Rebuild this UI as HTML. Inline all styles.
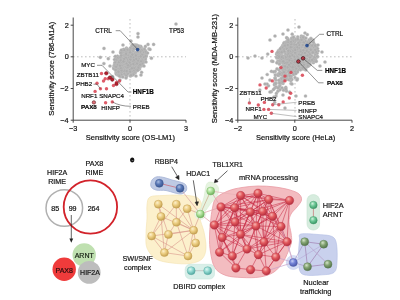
<!DOCTYPE html>
<html><head><meta charset="utf-8"><style>
html,body{margin:0;padding:0;background:#fff;width:400px;height:300px;overflow:hidden}
svg{display:block}
text{stroke:#111;stroke-width:0.2px}
</style></head><body>
<svg width="400" height="300" viewBox="0 0 400 300" font-family="&apos;Liberation Sans&apos;, Arial, sans-serif">
<defs>
<radialGradient id="gR" cx="0.38" cy="0.32" r="0.7"><stop offset="0" stop-color="#f6b4b0"/><stop offset="0.45" stop-color="#e25a5e"/><stop offset="1" stop-color="#b42c3c"/></radialGradient>
<radialGradient id="gY" cx="0.38" cy="0.32" r="0.7"><stop offset="0" stop-color="#fdf0cc"/><stop offset="0.45" stop-color="#edcf84"/><stop offset="1" stop-color="#c4a050"/></radialGradient>
<radialGradient id="gB" cx="0.38" cy="0.32" r="0.7"><stop offset="0" stop-color="#a8bce0"/><stop offset="0.45" stop-color="#5a78b6"/><stop offset="1" stop-color="#36548e"/></radialGradient>
<radialGradient id="gG" cx="0.38" cy="0.32" r="0.7"><stop offset="0" stop-color="#eafbe0"/><stop offset="0.45" stop-color="#aee29a"/><stop offset="1" stop-color="#6cae5a"/></radialGradient>
<radialGradient id="gT" cx="0.38" cy="0.32" r="0.7"><stop offset="0" stop-color="#e0f8f4"/><stop offset="0.45" stop-color="#94dad2"/><stop offset="1" stop-color="#50a8a0"/></radialGradient>
<radialGradient id="gH" cx="0.38" cy="0.32" r="0.7"><stop offset="0" stop-color="#d0f2dc"/><stop offset="0.45" stop-color="#6cc896"/><stop offset="1" stop-color="#389464"/></radialGradient>
<radialGradient id="gD" cx="0.38" cy="0.32" r="0.7"><stop offset="0" stop-color="#d4e4c8"/><stop offset="0.45" stop-color="#84a474"/><stop offset="1" stop-color="#527248"/></radialGradient>
<radialGradient id="gV" cx="0.38" cy="0.32" r="0.7"><stop offset="0" stop-color="#c8d0f6"/><stop offset="0.45" stop-color="#7484d8"/><stop offset="1" stop-color="#4a58a8"/></radialGradient>
</defs>
<rect width="400" height="300" fill="#fff"/>
<line x1="130" y1="19" x2="130" y2="120" stroke="#b5b5b5" stroke-width="0.9" stroke-dasharray="1.6 2.4"/>
<line x1="73" y1="56.8" x2="186" y2="56.8" stroke="#b5b5b5" stroke-width="0.9" stroke-dasharray="1.6 2.4"/>
<g fill="#adadad" stroke="#c6c6c6" stroke-width="0.35">
<circle cx="118.8" cy="59.3" r="1.6"/>
<circle cx="126.2" cy="49.1" r="1.6"/>
<circle cx="128.5" cy="57.6" r="1.6"/>
<circle cx="118.3" cy="73.0" r="1.6"/>
<circle cx="116.4" cy="72.2" r="1.6"/>
<circle cx="134.0" cy="69.0" r="1.6"/>
<circle cx="114.8" cy="66.0" r="1.6"/>
<circle cx="141.7" cy="65.8" r="1.6"/>
<circle cx="130.2" cy="57.0" r="1.6"/>
<circle cx="135.8" cy="47.5" r="1.6"/>
<circle cx="130.7" cy="72.0" r="1.6"/>
<circle cx="122.9" cy="71.1" r="1.6"/>
<circle cx="131.4" cy="54.9" r="1.6"/>
<circle cx="123.2" cy="51.7" r="1.6"/>
<circle cx="133.5" cy="54.8" r="1.6"/>
<circle cx="126.6" cy="67.6" r="1.6"/>
<circle cx="125.1" cy="58.6" r="1.6"/>
<circle cx="141.6" cy="56.7" r="1.6"/>
<circle cx="124.5" cy="69.2" r="1.6"/>
<circle cx="137.6" cy="67.2" r="1.6"/>
<circle cx="132.3" cy="50.9" r="1.6"/>
<circle cx="132.5" cy="67.9" r="1.6"/>
<circle cx="120.4" cy="70.1" r="1.6"/>
<circle cx="120.7" cy="76.5" r="1.6"/>
<circle cx="138.5" cy="55.2" r="1.6"/>
<circle cx="136.7" cy="47.5" r="1.6"/>
<circle cx="137.0" cy="57.5" r="1.6"/>
<circle cx="131.3" cy="58.0" r="1.6"/>
<circle cx="132.3" cy="64.7" r="1.6"/>
<circle cx="121.9" cy="76.5" r="1.6"/>
<circle cx="134.7" cy="48.4" r="1.6"/>
<circle cx="130.0" cy="67.2" r="1.6"/>
<circle cx="116.5" cy="73.1" r="1.6"/>
<circle cx="115.4" cy="66.3" r="1.6"/>
<circle cx="133.9" cy="70.8" r="1.6"/>
<circle cx="117.8" cy="71.3" r="1.6"/>
<circle cx="138.4" cy="66.7" r="1.6"/>
<circle cx="145.3" cy="59.1" r="1.6"/>
<circle cx="122.5" cy="65.4" r="1.6"/>
<circle cx="133.3" cy="71.9" r="1.6"/>
<circle cx="116.4" cy="64.8" r="1.6"/>
<circle cx="122.6" cy="67.9" r="1.6"/>
<circle cx="128.0" cy="54.2" r="1.6"/>
<circle cx="127.7" cy="65.7" r="1.6"/>
<circle cx="145.7" cy="52.3" r="1.6"/>
<circle cx="132.6" cy="62.7" r="1.6"/>
<circle cx="126.5" cy="48.1" r="1.6"/>
<circle cx="145.9" cy="55.4" r="1.6"/>
<circle cx="145.5" cy="56.4" r="1.6"/>
<circle cx="125.3" cy="62.0" r="1.6"/>
<circle cx="121.8" cy="74.1" r="1.6"/>
<circle cx="116.0" cy="62.6" r="1.6"/>
<circle cx="117.5" cy="57.1" r="1.6"/>
<circle cx="116.8" cy="69.2" r="1.6"/>
<circle cx="126.6" cy="51.5" r="1.6"/>
<circle cx="120.5" cy="64.9" r="1.6"/>
<circle cx="119.4" cy="57.7" r="1.6"/>
<circle cx="128.8" cy="61.6" r="1.6"/>
<circle cx="121.4" cy="60.9" r="1.6"/>
<circle cx="132.6" cy="45.9" r="1.6"/>
<circle cx="124.3" cy="53.7" r="1.6"/>
<circle cx="122.5" cy="51.1" r="1.6"/>
<circle cx="139.6" cy="69.0" r="1.6"/>
<circle cx="143.4" cy="54.8" r="1.6"/>
<circle cx="121.1" cy="65.0" r="1.6"/>
<circle cx="126.1" cy="74.9" r="1.6"/>
<circle cx="136.0" cy="65.3" r="1.6"/>
<circle cx="120.3" cy="60.5" r="1.6"/>
<circle cx="145.1" cy="57.2" r="1.6"/>
<circle cx="143.0" cy="56.9" r="1.6"/>
<circle cx="123.0" cy="68.7" r="1.6"/>
<circle cx="117.5" cy="56.2" r="1.6"/>
<circle cx="127.1" cy="71.0" r="1.6"/>
<circle cx="141.3" cy="47.8" r="1.6"/>
<circle cx="139.7" cy="46.3" r="1.6"/>
<circle cx="117.5" cy="63.5" r="1.6"/>
<circle cx="116.4" cy="63.7" r="1.6"/>
<circle cx="140.7" cy="65.0" r="1.6"/>
<circle cx="138.8" cy="51.5" r="1.6"/>
<circle cx="139.6" cy="62.4" r="1.6"/>
<circle cx="121.8" cy="75.1" r="1.6"/>
<circle cx="146.2" cy="55.2" r="1.6"/>
<circle cx="136.3" cy="53.9" r="1.6"/>
<circle cx="126.7" cy="75.0" r="1.6"/>
<circle cx="131.0" cy="71.0" r="1.6"/>
<circle cx="140.8" cy="46.4" r="1.6"/>
<circle cx="135.6" cy="71.9" r="1.6"/>
<circle cx="130.0" cy="48.9" r="1.6"/>
<circle cx="126.5" cy="76.5" r="1.6"/>
<circle cx="126.9" cy="65.9" r="1.6"/>
<circle cx="145.4" cy="51.1" r="1.6"/>
<circle cx="138.7" cy="68.3" r="1.6"/>
<circle cx="135.1" cy="69.6" r="1.6"/>
<circle cx="133.5" cy="46.9" r="1.6"/>
<circle cx="119.5" cy="63.9" r="1.6"/>
<circle cx="124.6" cy="69.6" r="1.6"/>
<circle cx="122.0" cy="66.0" r="1.6"/>
<circle cx="125.3" cy="64.2" r="1.6"/>
<circle cx="139.7" cy="66.2" r="1.6"/>
<circle cx="135.5" cy="70.8" r="1.6"/>
<circle cx="130.6" cy="61.5" r="1.6"/>
<circle cx="121.8" cy="51.5" r="1.6"/>
<circle cx="122.6" cy="56.8" r="1.6"/>
<circle cx="120.7" cy="69.3" r="1.6"/>
<circle cx="137.1" cy="56.0" r="1.6"/>
<circle cx="125.7" cy="66.0" r="1.6"/>
<circle cx="136.7" cy="64.7" r="1.6"/>
<circle cx="120.5" cy="72.7" r="1.6"/>
<circle cx="119.1" cy="63.7" r="1.6"/>
<circle cx="137.5" cy="53.8" r="1.6"/>
<circle cx="136.4" cy="64.1" r="1.6"/>
<circle cx="140.0" cy="48.9" r="1.6"/>
<circle cx="133.1" cy="58.1" r="1.6"/>
<circle cx="133.9" cy="64.2" r="1.6"/>
<circle cx="129.3" cy="62.9" r="1.6"/>
<circle cx="137.5" cy="69.7" r="1.6"/>
<circle cx="142.3" cy="62.6" r="1.6"/>
<circle cx="139.7" cy="67.6" r="1.6"/>
<circle cx="132.5" cy="45.2" r="1.6"/>
<circle cx="118.8" cy="70.1" r="1.6"/>
<circle cx="113.7" cy="67.7" r="1.6"/>
<circle cx="121.6" cy="75.6" r="1.6"/>
<circle cx="144.9" cy="60.7" r="1.6"/>
<circle cx="124.7" cy="74.3" r="1.6"/>
<circle cx="127.7" cy="50.1" r="1.6"/>
<circle cx="127.0" cy="63.5" r="1.6"/>
<circle cx="119.6" cy="68.8" r="1.6"/>
<circle cx="127.5" cy="57.6" r="1.6"/>
<circle cx="118.5" cy="65.8" r="1.6"/>
<circle cx="130.4" cy="58.5" r="1.6"/>
<circle cx="133.6" cy="57.9" r="1.6"/>
<circle cx="115.1" cy="67.3" r="1.6"/>
<circle cx="117.0" cy="60.4" r="1.6"/>
<circle cx="135.5" cy="70.7" r="1.6"/>
<circle cx="134.1" cy="48.0" r="1.6"/>
<circle cx="135.6" cy="62.8" r="1.6"/>
<circle cx="133.7" cy="54.6" r="1.6"/>
<circle cx="139.2" cy="62.9" r="1.6"/>
<circle cx="125.8" cy="59.3" r="1.6"/>
<circle cx="139.3" cy="67.4" r="1.6"/>
<circle cx="116.9" cy="60.4" r="1.6"/>
<circle cx="125.9" cy="55.5" r="1.6"/>
<circle cx="121.4" cy="62.5" r="1.6"/>
<circle cx="133.1" cy="50.2" r="1.6"/>
<circle cx="124.1" cy="55.1" r="1.6"/>
<circle cx="137.2" cy="55.7" r="1.6"/>
<circle cx="121.2" cy="68.9" r="1.6"/>
<circle cx="137.3" cy="51.2" r="1.6"/>
<circle cx="136.0" cy="67.3" r="1.6"/>
<circle cx="127.3" cy="64.0" r="1.6"/>
<circle cx="131.9" cy="71.3" r="1.6"/>
<circle cx="138.1" cy="57.9" r="1.6"/>
<circle cx="124.6" cy="60.8" r="1.6"/>
<circle cx="122.9" cy="77.0" r="1.6"/>
<circle cx="117.2" cy="61.4" r="1.6"/>
<circle cx="143.1" cy="54.2" r="1.6"/>
<circle cx="119.4" cy="62.1" r="1.6"/>
<circle cx="123.7" cy="65.8" r="1.6"/>
<circle cx="119.8" cy="69.2" r="1.6"/>
<circle cx="143.6" cy="49.2" r="1.6"/>
<circle cx="122.2" cy="63.5" r="1.6"/>
<circle cx="129.4" cy="61.7" r="1.6"/>
<circle cx="122.1" cy="69.1" r="1.6"/>
<circle cx="117.1" cy="70.2" r="1.6"/>
<circle cx="119.8" cy="61.3" r="1.6"/>
<circle cx="132.8" cy="59.2" r="1.6"/>
<circle cx="139.6" cy="57.2" r="1.6"/>
<circle cx="142.8" cy="62.2" r="1.6"/>
<circle cx="123.8" cy="60.8" r="1.6"/>
<circle cx="138.7" cy="57.6" r="1.6"/>
<circle cx="142.9" cy="52.8" r="1.6"/>
<circle cx="142.0" cy="60.5" r="1.6"/>
<circle cx="120.7" cy="71.1" r="1.6"/>
<circle cx="136.3" cy="67.0" r="1.6"/>
<circle cx="144.2" cy="58.8" r="1.6"/>
<circle cx="139.5" cy="66.0" r="1.6"/>
<circle cx="138.5" cy="59.6" r="1.6"/>
<circle cx="117.6" cy="68.3" r="1.6"/>
<circle cx="133.9" cy="61.8" r="1.6"/>
<circle cx="136.7" cy="60.9" r="1.6"/>
<circle cx="120.6" cy="52.2" r="1.6"/>
<circle cx="142.6" cy="57.6" r="1.6"/>
<circle cx="130.7" cy="61.6" r="1.6"/>
<circle cx="126.3" cy="48.7" r="1.6"/>
<circle cx="131.8" cy="50.1" r="1.6"/>
<circle cx="114.3" cy="68.1" r="1.6"/>
<circle cx="130.7" cy="49.4" r="1.6"/>
<circle cx="127.7" cy="59.0" r="1.6"/>
<circle cx="132.8" cy="64.9" r="1.6"/>
<circle cx="139.3" cy="56.0" r="1.6"/>
<circle cx="126.1" cy="49.4" r="1.6"/>
<circle cx="116.0" cy="65.9" r="1.6"/>
<circle cx="132.9" cy="50.9" r="1.6"/>
<circle cx="122.9" cy="50.2" r="1.6"/>
<circle cx="113.9" cy="68.6" r="1.6"/>
<circle cx="138.2" cy="59.9" r="1.6"/>
<circle cx="130.9" cy="52.4" r="1.6"/>
<circle cx="129.8" cy="59.9" r="1.6"/>
<circle cx="122.1" cy="54.9" r="1.6"/>
<circle cx="135.0" cy="44.9" r="1.6"/>
<circle cx="116.3" cy="73.2" r="1.6"/>
<circle cx="124.4" cy="58.1" r="1.6"/>
<circle cx="123.7" cy="70.3" r="1.6"/>
<circle cx="120.8" cy="71.1" r="1.6"/>
<circle cx="138.8" cy="52.6" r="1.6"/>
<circle cx="144.1" cy="54.3" r="1.6"/>
<circle cx="130.1" cy="75.5" r="1.6"/>
<circle cx="120.9" cy="52.6" r="1.6"/>
<circle cx="116.5" cy="74.2" r="1.6"/>
<circle cx="125.0" cy="58.7" r="1.6"/>
<circle cx="117.5" cy="67.8" r="1.6"/>
<circle cx="131.3" cy="72.2" r="1.6"/>
<circle cx="145.4" cy="53.5" r="1.6"/>
<circle cx="136.9" cy="46.3" r="1.6"/>
<circle cx="124.6" cy="62.5" r="1.6"/>
<circle cx="124.9" cy="63.4" r="1.6"/>
<circle cx="132.2" cy="74.8" r="1.6"/>
<circle cx="119.0" cy="63.4" r="1.6"/>
<circle cx="124.6" cy="55.0" r="1.6"/>
<circle cx="135.0" cy="72.8" r="1.6"/>
<circle cx="146.1" cy="56.4" r="1.6"/>
<circle cx="141.1" cy="65.1" r="1.6"/>
<circle cx="142.7" cy="50.1" r="1.6"/>
<circle cx="135.3" cy="53.9" r="1.6"/>
<circle cx="139.4" cy="56.9" r="1.6"/>
<circle cx="116.0" cy="58.5" r="1.6"/>
<circle cx="126.4" cy="58.9" r="1.6"/>
<circle cx="129.0" cy="70.8" r="1.6"/>
<circle cx="130.5" cy="53.1" r="1.6"/>
<circle cx="129.6" cy="57.5" r="1.6"/>
<circle cx="114.8" cy="63.7" r="1.6"/>
<circle cx="124.8" cy="55.9" r="1.6"/>
<circle cx="122.0" cy="55.7" r="1.6"/>
<circle cx="118.2" cy="57.7" r="1.6"/>
<circle cx="118.5" cy="63.6" r="1.6"/>
<circle cx="139.0" cy="66.2" r="1.6"/>
<circle cx="135.1" cy="52.7" r="1.6"/>
<circle cx="128.1" cy="63.8" r="1.6"/>
<circle cx="123.7" cy="61.3" r="1.6"/>
<circle cx="114.1" cy="68.7" r="1.6"/>
<circle cx="132.5" cy="63.3" r="1.6"/>
<circle cx="134.5" cy="46.0" r="1.6"/>
<circle cx="119.2" cy="62.5" r="1.6"/>
<circle cx="126.3" cy="62.7" r="1.6"/>
<circle cx="140.1" cy="49.9" r="1.6"/>
<circle cx="134.9" cy="71.8" r="1.6"/>
<circle cx="145.3" cy="58.8" r="1.6"/>
<circle cx="133.9" cy="63.7" r="1.6"/>
<circle cx="145.9" cy="53.2" r="1.6"/>
<circle cx="138.8" cy="61.9" r="1.6"/>
<circle cx="129.8" cy="63.1" r="1.6"/>
<circle cx="130.5" cy="75.9" r="1.6"/>
<circle cx="130.3" cy="53.5" r="1.6"/>
<circle cx="115.4" cy="66.4" r="1.6"/>
<circle cx="137.3" cy="61.0" r="1.6"/>
<circle cx="132.2" cy="61.9" r="1.6"/>
<circle cx="121.9" cy="58.9" r="1.6"/>
<circle cx="123.7" cy="49.3" r="1.6"/>
<circle cx="123.9" cy="65.6" r="1.6"/>
<circle cx="145.0" cy="51.3" r="1.6"/>
<circle cx="139.9" cy="50.2" r="1.6"/>
<circle cx="118.2" cy="63.5" r="1.6"/>
<circle cx="133.2" cy="64.3" r="1.6"/>
<circle cx="123.4" cy="58.7" r="1.6"/>
<circle cx="142.3" cy="64.3" r="1.6"/>
<circle cx="124.2" cy="63.9" r="1.6"/>
<circle cx="129.4" cy="50.5" r="1.6"/>
<circle cx="142.4" cy="57.4" r="1.6"/>
<circle cx="124.7" cy="55.4" r="1.6"/>
<circle cx="133.6" cy="47.5" r="1.6"/>
<circle cx="127.3" cy="73.3" r="1.6"/>
<circle cx="132.8" cy="74.8" r="1.6"/>
<circle cx="124.1" cy="55.4" r="1.6"/>
<circle cx="121.0" cy="66.9" r="1.6"/>
<circle cx="142.7" cy="64.8" r="1.6"/>
<circle cx="118.5" cy="68.5" r="1.6"/>
<circle cx="116.2" cy="70.9" r="1.6"/>
<circle cx="138.5" cy="46.3" r="1.6"/>
<circle cx="132.2" cy="54.4" r="1.6"/>
<circle cx="123.5" cy="61.3" r="1.6"/>
<circle cx="121.4" cy="64.2" r="1.6"/>
<circle cx="132.1" cy="70.8" r="1.6"/>
<circle cx="137.4" cy="51.1" r="1.6"/>
<circle cx="117.4" cy="72.6" r="1.6"/>
<circle cx="134.3" cy="72.1" r="1.6"/>
<circle cx="119.3" cy="66.8" r="1.6"/>
<circle cx="133.3" cy="69.1" r="1.6"/>
<circle cx="136.8" cy="45.2" r="1.6"/>
<circle cx="144.0" cy="61.7" r="1.6"/>
<circle cx="121.5" cy="61.1" r="1.6"/>
<circle cx="144.4" cy="50.9" r="1.6"/>
<circle cx="127.6" cy="71.4" r="1.6"/>
<circle cx="120.9" cy="61.8" r="1.6"/>
<circle cx="143.7" cy="52.3" r="1.6"/>
<circle cx="122.4" cy="67.7" r="1.6"/>
<circle cx="122.4" cy="59.5" r="1.6"/>
<circle cx="128.0" cy="62.8" r="1.6"/>
<circle cx="142.5" cy="57.3" r="1.6"/>
<circle cx="143.7" cy="57.3" r="1.6"/>
<circle cx="129.7" cy="55.0" r="1.6"/>
<circle cx="122.6" cy="63.3" r="1.6"/>
<circle cx="126.5" cy="73.8" r="1.6"/>
<circle cx="118.4" cy="74.5" r="1.6"/>
<circle cx="116.0" cy="59.7" r="1.6"/>
<circle cx="119.1" cy="71.8" r="1.6"/>
<circle cx="134.7" cy="54.4" r="1.6"/>
<circle cx="121.3" cy="66.6" r="1.6"/>
<circle cx="136.4" cy="61.0" r="1.6"/>
<circle cx="143.0" cy="60.7" r="1.6"/>
<circle cx="127.5" cy="49.6" r="1.6"/>
<circle cx="135.4" cy="48.0" r="1.6"/>
<circle cx="129.5" cy="56.9" r="1.6"/>
<circle cx="130.9" cy="49.1" r="1.6"/>
<circle cx="118.5" cy="63.1" r="1.6"/>
<circle cx="128.9" cy="55.7" r="1.6"/>
<circle cx="125.3" cy="55.9" r="1.6"/>
<circle cx="141.1" cy="55.5" r="1.6"/>
<circle cx="135.2" cy="67.5" r="1.6"/>
<circle cx="114.1" cy="65.5" r="1.6"/>
<circle cx="144.2" cy="49.8" r="1.6"/>
<circle cx="139.2" cy="47.1" r="1.6"/>
<circle cx="138.9" cy="50.2" r="1.6"/>
<circle cx="128.7" cy="72.6" r="1.6"/>
<circle cx="134.8" cy="60.6" r="1.6"/>
<circle cx="120.0" cy="66.2" r="1.6"/>
<circle cx="114.9" cy="65.2" r="1.6"/>
<circle cx="125.2" cy="69.4" r="1.6"/>
<circle cx="128.6" cy="51.5" r="1.6"/>
<circle cx="129.0" cy="50.4" r="1.6"/>
<circle cx="119.5" cy="60.6" r="1.6"/>
<circle cx="138.8" cy="53.9" r="1.6"/>
<circle cx="128.1" cy="64.7" r="1.6"/>
<circle cx="126.2" cy="49.7" r="1.6"/>
<circle cx="124.6" cy="73.6" r="1.6"/>
<circle cx="123.6" cy="59.4" r="1.6"/>
<circle cx="133.2" cy="74.5" r="1.6"/>
<circle cx="126.2" cy="67.3" r="1.6"/>
<circle cx="124.6" cy="63.3" r="1.6"/>
<circle cx="120.8" cy="59.1" r="1.6"/>
<circle cx="130.7" cy="49.4" r="1.6"/>
<circle cx="133.8" cy="68.9" r="1.6"/>
<circle cx="134.5" cy="70.6" r="1.6"/>
<circle cx="122.7" cy="55.8" r="1.6"/>
<circle cx="117.9" cy="75.0" r="1.6"/>
<circle cx="141.3" cy="64.8" r="1.6"/>
<circle cx="121.2" cy="74.3" r="1.6"/>
<circle cx="126.6" cy="64.6" r="1.6"/>
<circle cx="116.5" cy="66.5" r="1.6"/>
<circle cx="138.4" cy="68.3" r="1.6"/>
<circle cx="119.3" cy="71.3" r="1.6"/>
<circle cx="115.0" cy="62.3" r="1.6"/>
<circle cx="121.3" cy="53.3" r="1.6"/>
<circle cx="139.4" cy="47.5" r="1.6"/>
<circle cx="143.1" cy="52.4" r="1.6"/>
<circle cx="132.5" cy="46.0" r="1.6"/>
<circle cx="132.6" cy="48.2" r="1.6"/>
<circle cx="133.8" cy="69.9" r="1.6"/>
<circle cx="133.0" cy="46.3" r="1.6"/>
<circle cx="120.6" cy="66.7" r="1.6"/>
<circle cx="128.3" cy="58.4" r="1.6"/>
<circle cx="115.2" cy="66.5" r="1.6"/>
<circle cx="143.3" cy="62.3" r="1.6"/>
<circle cx="118.8" cy="74.5" r="1.6"/>
<circle cx="133.6" cy="59.2" r="1.6"/>
<circle cx="129.9" cy="54.0" r="1.6"/>
<circle cx="129.4" cy="64.7" r="1.6"/>
<circle cx="130.9" cy="65.9" r="1.6"/>
<circle cx="127.4" cy="61.3" r="1.6"/>
<circle cx="119.4" cy="76.0" r="1.6"/>
<circle cx="124.9" cy="56.4" r="1.6"/>
<circle cx="142.2" cy="59.1" r="1.6"/>
<circle cx="123.0" cy="56.2" r="1.6"/>
<circle cx="122.1" cy="54.5" r="1.6"/>
<circle cx="118.7" cy="69.7" r="1.6"/>
<circle cx="118.0" cy="70.9" r="1.6"/>
<circle cx="121.8" cy="52.3" r="1.6"/>
<circle cx="126.0" cy="49.7" r="1.6"/>
<circle cx="141.4" cy="59.8" r="1.6"/>
<circle cx="122.1" cy="52.5" r="1.6"/>
<circle cx="127.9" cy="58.6" r="1.6"/>
<circle cx="142.0" cy="60.6" r="1.6"/>
<circle cx="138.2" cy="69.6" r="1.6"/>
<circle cx="115.6" cy="69.9" r="1.6"/>
<circle cx="130.6" cy="47.8" r="1.6"/>
<circle cx="136.5" cy="46.2" r="1.6"/>
<circle cx="131.9" cy="46.0" r="1.6"/>
<circle cx="137.8" cy="68.7" r="1.6"/>
<circle cx="117.8" cy="64.5" r="1.6"/>
<circle cx="126.8" cy="57.5" r="1.6"/>
<circle cx="142.1" cy="63.4" r="1.6"/>
<circle cx="126.3" cy="75.1" r="1.6"/>
<circle cx="120.2" cy="71.9" r="1.6"/>
<circle cx="131.1" cy="54.8" r="1.6"/>
<circle cx="141.0" cy="52.0" r="1.6"/>
<circle cx="139.2" cy="65.9" r="1.6"/>
<circle cx="131.5" cy="55.6" r="1.6"/>
<circle cx="133.7" cy="48.7" r="1.6"/>
<circle cx="144.6" cy="49.2" r="1.6"/>
<circle cx="131.1" cy="69.6" r="1.6"/>
<circle cx="122.5" cy="56.6" r="1.6"/>
<circle cx="128.2" cy="59.4" r="1.6"/>
<circle cx="128.9" cy="54.8" r="1.6"/>
<circle cx="103.9" cy="63.6" r="1.6"/>
<circle cx="116.1" cy="66.8" r="1.6"/>
<circle cx="130.1" cy="61.5" r="1.6"/>
<circle cx="135.0" cy="57.3" r="1.6"/>
<circle cx="120.1" cy="63.4" r="1.6"/>
<circle cx="112.6" cy="76.6" r="1.6"/>
<circle cx="136.6" cy="60.0" r="1.6"/>
<circle cx="128.1" cy="61.0" r="1.6"/>
<circle cx="137.4" cy="53.8" r="1.6"/>
<circle cx="138.8" cy="58.4" r="1.6"/>
<circle cx="138.6" cy="66.3" r="1.6"/>
<circle cx="123.6" cy="63.6" r="1.6"/>
<circle cx="119.5" cy="63.1" r="1.6"/>
<circle cx="151.4" cy="58.2" r="1.6"/>
<circle cx="133.2" cy="63.8" r="1.6"/>
<circle cx="143.4" cy="56.1" r="1.6"/>
<circle cx="132.7" cy="44.9" r="1.6"/>
<circle cx="127.4" cy="68.4" r="1.6"/>
<circle cx="141.7" cy="50.4" r="1.6"/>
<circle cx="121.4" cy="65.8" r="1.6"/>
<circle cx="120.3" cy="61.6" r="1.6"/>
<circle cx="138.4" cy="46.0" r="1.6"/>
<circle cx="141.6" cy="72.3" r="1.6"/>
<circle cx="141.0" cy="53.6" r="1.6"/>
<circle cx="127.4" cy="67.9" r="1.6"/>
<circle cx="145.9" cy="51.7" r="1.6"/>
<circle cx="140.3" cy="51.7" r="1.6"/>
<circle cx="132.9" cy="55.9" r="1.6"/>
<circle cx="140.2" cy="64.6" r="1.6"/>
<circle cx="118.5" cy="71.8" r="1.6"/>
<circle cx="128.8" cy="56.1" r="1.6"/>
<circle cx="131.8" cy="67.6" r="1.6"/>
<circle cx="148.9" cy="48.8" r="1.6"/>
<circle cx="124.3" cy="50.2" r="1.6"/>
<circle cx="145.4" cy="46.4" r="1.6"/>
<circle cx="123.8" cy="55.3" r="1.6"/>
<circle cx="123.7" cy="55.6" r="1.6"/>
<circle cx="133.0" cy="62.9" r="1.6"/>
<circle cx="131.7" cy="62.2" r="1.6"/>
<circle cx="131.0" cy="75.2" r="1.6"/>
<circle cx="115.3" cy="56.4" r="1.6"/>
<circle cx="124.5" cy="58.4" r="1.6"/>
<circle cx="120.3" cy="67.0" r="1.6"/>
<circle cx="126.0" cy="52.5" r="1.6"/>
<circle cx="136.5" cy="69.6" r="1.6"/>
<circle cx="134.5" cy="54.9" r="1.6"/>
<circle cx="130.4" cy="59.4" r="1.6"/>
<circle cx="133.5" cy="65.3" r="1.6"/>
<circle cx="121.0" cy="53.0" r="1.6"/>
<circle cx="126.7" cy="58.0" r="1.6"/>
<circle cx="131.1" cy="55.6" r="1.6"/>
<circle cx="138.4" cy="68.0" r="1.6"/>
<circle cx="120.8" cy="62.2" r="1.6"/>
<circle cx="114.5" cy="59.5" r="1.6"/>
<circle cx="122.0" cy="71.6" r="1.6"/>
<circle cx="120.2" cy="57.6" r="1.6"/>
<circle cx="124.8" cy="70.5" r="1.6"/>
<circle cx="124.9" cy="63.5" r="1.6"/>
<circle cx="136.4" cy="64.2" r="1.6"/>
<circle cx="143.3" cy="55.0" r="1.6"/>
<circle cx="131.4" cy="60.9" r="1.6"/>
<circle cx="144.0" cy="57.1" r="1.6"/>
<circle cx="130.1" cy="64.2" r="1.6"/>
<circle cx="131.6" cy="59.8" r="1.6"/>
<circle cx="122.8" cy="58.8" r="1.6"/>
<circle cx="121.9" cy="58.2" r="1.6"/>
<circle cx="138.0" cy="56.8" r="1.6"/>
<circle cx="129.0" cy="71.9" r="1.6"/>
<circle cx="127.7" cy="49.8" r="1.6"/>
<circle cx="142.0" cy="54.7" r="1.6"/>
<circle cx="135.9" cy="46.4" r="1.6"/>
<circle cx="134.1" cy="59.9" r="1.6"/>
<circle cx="131.6" cy="60.6" r="1.6"/>
<circle cx="129.9" cy="50.5" r="1.6"/>
<circle cx="118.9" cy="62.2" r="1.6"/>
<circle cx="125.1" cy="61.6" r="1.6"/>
<circle cx="132.8" cy="60.1" r="1.6"/>
<circle cx="127.8" cy="58.5" r="1.6"/>
<circle cx="131.2" cy="66.6" r="1.6"/>
<circle cx="134.1" cy="57.6" r="1.6"/>
<circle cx="133.9" cy="68.1" r="1.6"/>
<circle cx="129.4" cy="66.2" r="1.6"/>
<circle cx="134.8" cy="54.4" r="1.6"/>
<circle cx="130.1" cy="53.0" r="1.6"/>
<circle cx="135.7" cy="56.7" r="1.6"/>
<circle cx="124.5" cy="71.2" r="1.6"/>
<circle cx="130.1" cy="69.9" r="1.6"/>
<circle cx="126.1" cy="63.8" r="1.6"/>
<circle cx="130.2" cy="58.4" r="1.6"/>
<circle cx="129.3" cy="57.8" r="1.6"/>
<circle cx="133.3" cy="57.7" r="1.6"/>
<circle cx="121.3" cy="50.2" r="1.6"/>
<circle cx="135.9" cy="55.4" r="1.6"/>
<circle cx="121.5" cy="70.2" r="1.6"/>
<circle cx="136.1" cy="62.5" r="1.6"/>
<circle cx="130.1" cy="71.8" r="1.6"/>
<circle cx="137.7" cy="70.3" r="1.6"/>
<circle cx="131.7" cy="64.1" r="1.6"/>
<circle cx="124.2" cy="58.9" r="1.6"/>
<circle cx="138.6" cy="58.8" r="1.6"/>
<circle cx="140.6" cy="56.4" r="1.6"/>
<circle cx="121.3" cy="58.0" r="1.6"/>
<circle cx="124.4" cy="61.8" r="1.6"/>
<circle cx="128.0" cy="67.1" r="1.6"/>
<circle cx="130.7" cy="58.4" r="1.6"/>
<circle cx="130.3" cy="59.6" r="1.6"/>
<circle cx="133.7" cy="62.6" r="1.6"/>
<circle cx="132.3" cy="53.8" r="1.6"/>
<circle cx="127.6" cy="73.5" r="1.6"/>
<circle cx="134.5" cy="64.3" r="1.6"/>
<circle cx="120.7" cy="68.0" r="1.6"/>
<circle cx="125.0" cy="55.8" r="1.6"/>
<circle cx="130.0" cy="66.1" r="1.6"/>
<circle cx="141.0" cy="61.3" r="1.6"/>
<circle cx="120.8" cy="60.3" r="1.6"/>
<circle cx="135.9" cy="61.7" r="1.6"/>
<circle cx="126.4" cy="55.4" r="1.6"/>
<circle cx="136.7" cy="59.9" r="1.6"/>
<circle cx="131.0" cy="56.5" r="1.6"/>
<circle cx="134.3" cy="62.3" r="1.6"/>
<circle cx="120.7" cy="57.2" r="1.6"/>
<circle cx="133.3" cy="61.1" r="1.6"/>
<circle cx="133.2" cy="64.1" r="1.6"/>
<circle cx="126.8" cy="63.6" r="1.6"/>
<circle cx="130.5" cy="64.5" r="1.6"/>
<circle cx="137.0" cy="52.2" r="1.6"/>
<circle cx="145.6" cy="56.2" r="1.6"/>
<circle cx="136.0" cy="59.2" r="1.6"/>
<circle cx="138.1" cy="51.6" r="1.6"/>
<circle cx="125.7" cy="57.8" r="1.6"/>
<circle cx="137.1" cy="63.4" r="1.6"/>
<circle cx="134.1" cy="59.9" r="1.6"/>
<circle cx="129.6" cy="62.6" r="1.6"/>
<circle cx="126.7" cy="71.8" r="1.6"/>
<circle cx="124.1" cy="59.1" r="1.6"/>
<circle cx="123.4" cy="61.8" r="1.6"/>
<circle cx="138.0" cy="60.5" r="1.6"/>
<circle cx="126.6" cy="71.0" r="1.6"/>
<circle cx="132.3" cy="54.6" r="1.6"/>
<circle cx="120.0" cy="65.7" r="1.6"/>
<circle cx="128.1" cy="65.3" r="1.6"/>
<circle cx="121.1" cy="55.6" r="1.6"/>
<circle cx="125.7" cy="54.4" r="1.6"/>
<circle cx="130.2" cy="52.3" r="1.6"/>
<circle cx="123.5" cy="61.4" r="1.6"/>
<circle cx="131.9" cy="68.3" r="1.6"/>
<circle cx="136.3" cy="58.9" r="1.6"/>
<circle cx="126.1" cy="53.9" r="1.6"/>
<circle cx="176.0" cy="24.0" r="1.6"/>
<circle cx="138.0" cy="33.6" r="1.6"/>
<circle cx="138.0" cy="37.0" r="1.6"/>
<circle cx="148.0" cy="44.4" r="1.6"/>
<circle cx="153.6" cy="44.4" r="1.6"/>
<circle cx="150.0" cy="49.4" r="1.6"/>
<circle cx="147.6" cy="53.0" r="1.6"/>
<circle cx="104.0" cy="48.4" r="1.6"/>
<circle cx="108.3" cy="58.7" r="1.6"/>
<circle cx="113.0" cy="52.0" r="1.6"/>
<circle cx="100.3" cy="57.3" r="1.6"/>
<circle cx="120.0" cy="80.0" r="1.6"/>
<circle cx="136.0" cy="76.0" r="1.6"/>
<circle cx="141.0" cy="75.0" r="1.6"/>
<circle cx="126.0" cy="78.0" r="1.6"/>
<circle cx="110.0" cy="66.0" r="1.6"/>
<circle cx="146.0" cy="62.0" r="1.6"/>
<circle cx="144.0" cy="66.0" r="1.6"/>
<circle cx="131.0" cy="41.0" r="1.6"/>
<circle cx="123.0" cy="45.0" r="1.6"/>
</g>
<g fill="#da4654" fill-opacity="0.88">
<circle cx="101.5" cy="73.5" r="1.7"/>
<circle cx="105.2" cy="78.7" r="1.7"/>
<circle cx="108.2" cy="78.7" r="1.7"/>
<circle cx="119.5" cy="81" r="1.7"/>
<circle cx="116.5" cy="82.5" r="1.7"/>
<circle cx="113.5" cy="85.5" r="1.7"/>
<circle cx="97" cy="83.2" r="1.7"/>
<circle cx="100.4" cy="88.8" r="1.7"/>
<circle cx="106.5" cy="88.8" r="1.7"/>
<circle cx="95.1" cy="91.4" r="1.7"/>
<circle cx="105.6" cy="102.8" r="1.7"/>
<circle cx="112.3" cy="101.9" r="1.7"/>
<circle cx="103.5" cy="81" r="1.7"/>
</g>
<g fill="#b0202c" stroke="#6a1018" stroke-width="0.4">
<circle cx="106.3" cy="73.3" r="1.8"/>
<circle cx="110" cy="77.5" r="1.8"/>
<circle cx="112.3" cy="79.6" r="1.8"/>
<circle cx="116.5" cy="84" r="1.8"/>
</g>
<circle cx="93.9" cy="102.4" r="1.7" fill="#e07078" stroke="#5a1a20" stroke-width="0.6"/>
<circle cx="137.6" cy="49.6" r="1.8" fill="#2f5498"/>
<g fill="none" stroke="#3a3a3a" stroke-width="0.55">
<polyline points="115.7,30.7 120.2,30.7 137.6,49.4"/>
<polyline points="97,65.3 102,65.3 128,92 131.5,92"/>
<polyline points="93.5,84.2 97,84.2 100.4,88.8"/>
<path d="M112.3,101.9 Q120,106.3 131,106.3"/>
</g>
<text x="95.3" y="32.96" font-size="6.3" text-anchor="start" font-weight="normal" fill="#111" >CTRL</text>
<text x="176.6" y="33.46" font-size="6.3" text-anchor="middle" font-weight="normal" fill="#111" >TP53</text>
<text x="81.2" y="67.42" font-size="6.2" text-anchor="start" font-weight="normal" fill="#111" >MYC</text>
<text x="76.7" y="77.22" font-size="6.2" text-anchor="start" font-weight="normal" fill="#111" >ZBTB11</text>
<text x="76.0" y="86.42" font-size="6.2" text-anchor="start" font-weight="normal" fill="#111" >PHB2</text>
<text x="81.2" y="98.22" font-size="6.2" text-anchor="start" font-weight="normal" fill="#111" >NRF1</text>
<text x="99.2" y="98.22" font-size="6.2" text-anchor="start" font-weight="normal" fill="#111" >SNAPC4</text>
<text x="81.1" y="109.42" font-size="6.2" text-anchor="start" font-weight="bold" fill="#000"  style="stroke-width:0.18px;stroke:#000">PAX8</text>
<text x="101.3" y="110.22" font-size="6.2" text-anchor="start" font-weight="normal" fill="#111" >HINFP</text>
<text x="132.8" y="108.52" font-size="6.2" text-anchor="start" font-weight="normal" fill="#111" >PREB</text>
<text x="132.8" y="93.86" font-size="6.3" text-anchor="start" font-weight="bold" fill="#000"  style="stroke-width:0.18px;stroke:#000">HNF1B</text>
<line x1="73.2" y1="17.5" x2="73.2" y2="120.2" stroke="#333" stroke-width="0.9"/>
<line x1="73.2" y1="120.2" x2="186" y2="120.2" stroke="#333" stroke-width="0.9"/>
<line x1="70.7" y1="25.2" x2="73.2" y2="25.2" stroke="#333" stroke-width="0.9"/>
<text x="68.7" y="27.81" font-size="7.3" text-anchor="end" font-weight="normal" fill="#111" >2</text>
<line x1="70.7" y1="56.8" x2="73.2" y2="56.8" stroke="#333" stroke-width="0.9"/>
<text x="68.7" y="59.41" font-size="7.3" text-anchor="end" font-weight="normal" fill="#111" >0</text>
<line x1="70.7" y1="88.5" x2="73.2" y2="88.5" stroke="#333" stroke-width="0.9"/>
<text x="68.7" y="91.11" font-size="7.3" text-anchor="end" font-weight="normal" fill="#111" >−2</text>
<line x1="70.7" y1="120.2" x2="73.2" y2="120.2" stroke="#333" stroke-width="0.9"/>
<text x="68.7" y="122.81" font-size="7.3" text-anchor="end" font-weight="normal" fill="#111" >−4</text>
<line x1="73.2" y1="120.2" x2="73.2" y2="122.7" stroke="#333" stroke-width="0.9"/>
<text x="73.2" y="130.81" font-size="7.3" text-anchor="middle" font-weight="normal" fill="#111" >−3</text>
<line x1="130" y1="120.2" x2="130" y2="122.7" stroke="#333" stroke-width="0.9"/>
<text x="130.0" y="130.81" font-size="7.3" text-anchor="middle" font-weight="normal" fill="#111" >0</text>
<line x1="186" y1="120.2" x2="186" y2="122.7" stroke="#333" stroke-width="0.9"/>
<text x="186.0" y="130.81" font-size="7.3" text-anchor="middle" font-weight="normal" fill="#111" >3</text>
<text x="130.4" y="140.19" font-size="7.5" text-anchor="middle" font-weight="normal" fill="#111" >Sensitivity score (OS-LM1)</text>
<text x="0" y="0" font-size="7.7" text-anchor="middle" fill="#111" transform="translate(53.6,68.7) rotate(-90)">Sensitivity score (786-M1A)</text>
<line x1="295" y1="19" x2="295" y2="120" stroke="#b5b5b5" stroke-width="0.9" stroke-dasharray="1.6 2.4"/>
<line x1="238" y1="56.8" x2="352" y2="56.8" stroke="#b5b5b5" stroke-width="0.9" stroke-dasharray="1.6 2.4"/>
<g fill="#adadad" stroke="#c6c6c6" stroke-width="0.35">
<circle cx="299.8" cy="43.6" r="1.6"/>
<circle cx="293.9" cy="53.2" r="1.6"/>
<circle cx="301.4" cy="48.8" r="1.6"/>
<circle cx="309.6" cy="64.7" r="1.6"/>
<circle cx="286.5" cy="63.1" r="1.6"/>
<circle cx="307.4" cy="45.9" r="1.6"/>
<circle cx="302.6" cy="68.8" r="1.6"/>
<circle cx="279.3" cy="61.7" r="1.6"/>
<circle cx="287.1" cy="67.5" r="1.6"/>
<circle cx="315.5" cy="47.6" r="1.6"/>
<circle cx="282.2" cy="61.7" r="1.6"/>
<circle cx="301.7" cy="59.8" r="1.6"/>
<circle cx="299.6" cy="57.8" r="1.6"/>
<circle cx="311.0" cy="49.4" r="1.6"/>
<circle cx="299.1" cy="69.1" r="1.6"/>
<circle cx="287.9" cy="63.7" r="1.6"/>
<circle cx="296.2" cy="63.5" r="1.6"/>
<circle cx="286.5" cy="41.5" r="1.6"/>
<circle cx="287.2" cy="53.6" r="1.6"/>
<circle cx="276.9" cy="58.1" r="1.6"/>
<circle cx="296.6" cy="61.0" r="1.6"/>
<circle cx="288.8" cy="48.2" r="1.6"/>
<circle cx="289.2" cy="65.3" r="1.6"/>
<circle cx="315.6" cy="47.9" r="1.6"/>
<circle cx="289.6" cy="67.3" r="1.6"/>
<circle cx="289.8" cy="45.9" r="1.6"/>
<circle cx="285.7" cy="67.8" r="1.6"/>
<circle cx="311.6" cy="53.2" r="1.6"/>
<circle cx="297.0" cy="55.9" r="1.6"/>
<circle cx="293.2" cy="60.1" r="1.6"/>
<circle cx="314.1" cy="58.9" r="1.6"/>
<circle cx="293.8" cy="47.4" r="1.6"/>
<circle cx="295.1" cy="40.8" r="1.6"/>
<circle cx="309.3" cy="44.0" r="1.6"/>
<circle cx="309.0" cy="40.9" r="1.6"/>
<circle cx="289.6" cy="47.4" r="1.6"/>
<circle cx="290.9" cy="44.6" r="1.6"/>
<circle cx="285.7" cy="48.6" r="1.6"/>
<circle cx="289.3" cy="55.8" r="1.6"/>
<circle cx="296.2" cy="58.9" r="1.6"/>
<circle cx="302.3" cy="46.8" r="1.6"/>
<circle cx="317.2" cy="56.6" r="1.6"/>
<circle cx="286.8" cy="69.4" r="1.6"/>
<circle cx="300.9" cy="43.2" r="1.6"/>
<circle cx="290.0" cy="66.2" r="1.6"/>
<circle cx="287.3" cy="44.7" r="1.6"/>
<circle cx="317.2" cy="56.9" r="1.6"/>
<circle cx="305.1" cy="60.9" r="1.6"/>
<circle cx="308.9" cy="63.6" r="1.6"/>
<circle cx="313.1" cy="60.1" r="1.6"/>
<circle cx="287.5" cy="64.1" r="1.6"/>
<circle cx="301.6" cy="60.8" r="1.6"/>
<circle cx="299.5" cy="66.6" r="1.6"/>
<circle cx="297.0" cy="45.2" r="1.6"/>
<circle cx="282.6" cy="45.9" r="1.6"/>
<circle cx="292.1" cy="39.5" r="1.6"/>
<circle cx="292.0" cy="42.6" r="1.6"/>
<circle cx="297.1" cy="53.6" r="1.6"/>
<circle cx="303.3" cy="64.5" r="1.6"/>
<circle cx="296.9" cy="56.0" r="1.6"/>
<circle cx="308.1" cy="61.9" r="1.6"/>
<circle cx="291.5" cy="52.7" r="1.6"/>
<circle cx="304.6" cy="55.8" r="1.6"/>
<circle cx="279.7" cy="63.9" r="1.6"/>
<circle cx="309.9" cy="64.6" r="1.6"/>
<circle cx="297.8" cy="52.9" r="1.6"/>
<circle cx="307.8" cy="54.3" r="1.6"/>
<circle cx="295.2" cy="67.4" r="1.6"/>
<circle cx="291.8" cy="54.7" r="1.6"/>
<circle cx="301.7" cy="61.8" r="1.6"/>
<circle cx="285.1" cy="55.7" r="1.6"/>
<circle cx="295.0" cy="56.4" r="1.6"/>
<circle cx="308.3" cy="42.1" r="1.6"/>
<circle cx="309.6" cy="45.6" r="1.6"/>
<circle cx="295.0" cy="46.2" r="1.6"/>
<circle cx="303.3" cy="68.6" r="1.6"/>
<circle cx="307.1" cy="60.6" r="1.6"/>
<circle cx="288.5" cy="50.1" r="1.6"/>
<circle cx="290.4" cy="59.2" r="1.6"/>
<circle cx="306.3" cy="60.6" r="1.6"/>
<circle cx="313.6" cy="49.3" r="1.6"/>
<circle cx="277.0" cy="53.7" r="1.6"/>
<circle cx="315.8" cy="50.8" r="1.6"/>
<circle cx="307.2" cy="60.4" r="1.6"/>
<circle cx="315.4" cy="51.0" r="1.6"/>
<circle cx="303.7" cy="55.8" r="1.6"/>
<circle cx="306.6" cy="53.7" r="1.6"/>
<circle cx="301.5" cy="41.7" r="1.6"/>
<circle cx="303.8" cy="49.7" r="1.6"/>
<circle cx="303.5" cy="36.9" r="1.6"/>
<circle cx="313.4" cy="62.7" r="1.6"/>
<circle cx="302.3" cy="47.0" r="1.6"/>
<circle cx="313.9" cy="57.9" r="1.6"/>
<circle cx="297.2" cy="44.9" r="1.6"/>
<circle cx="288.6" cy="53.9" r="1.6"/>
<circle cx="289.4" cy="54.0" r="1.6"/>
<circle cx="308.3" cy="65.3" r="1.6"/>
<circle cx="280.3" cy="62.2" r="1.6"/>
<circle cx="310.9" cy="51.3" r="1.6"/>
<circle cx="313.8" cy="45.6" r="1.6"/>
<circle cx="276.6" cy="57.0" r="1.6"/>
<circle cx="306.3" cy="66.1" r="1.6"/>
<circle cx="316.6" cy="45.6" r="1.6"/>
<circle cx="289.3" cy="42.1" r="1.6"/>
<circle cx="300.0" cy="42.2" r="1.6"/>
<circle cx="303.4" cy="42.0" r="1.6"/>
<circle cx="303.3" cy="40.1" r="1.6"/>
<circle cx="310.3" cy="61.7" r="1.6"/>
<circle cx="301.9" cy="36.8" r="1.6"/>
<circle cx="305.1" cy="58.3" r="1.6"/>
<circle cx="300.9" cy="67.9" r="1.6"/>
<circle cx="292.5" cy="63.6" r="1.6"/>
<circle cx="288.2" cy="69.9" r="1.6"/>
<circle cx="291.8" cy="39.6" r="1.6"/>
<circle cx="293.0" cy="57.8" r="1.6"/>
<circle cx="297.1" cy="60.1" r="1.6"/>
<circle cx="286.6" cy="68.2" r="1.6"/>
<circle cx="293.7" cy="60.1" r="1.6"/>
<circle cx="301.8" cy="49.0" r="1.6"/>
<circle cx="296.2" cy="64.3" r="1.6"/>
<circle cx="297.8" cy="45.9" r="1.6"/>
<circle cx="309.5" cy="61.0" r="1.6"/>
<circle cx="291.9" cy="59.4" r="1.6"/>
<circle cx="299.4" cy="45.9" r="1.6"/>
<circle cx="299.1" cy="67.0" r="1.6"/>
<circle cx="294.7" cy="61.2" r="1.6"/>
<circle cx="306.2" cy="64.7" r="1.6"/>
<circle cx="307.4" cy="42.1" r="1.6"/>
<circle cx="295.4" cy="57.4" r="1.6"/>
<circle cx="314.8" cy="61.2" r="1.6"/>
<circle cx="314.4" cy="60.6" r="1.6"/>
<circle cx="297.8" cy="45.2" r="1.6"/>
<circle cx="315.3" cy="58.1" r="1.6"/>
<circle cx="309.8" cy="64.0" r="1.6"/>
<circle cx="286.5" cy="42.5" r="1.6"/>
<circle cx="303.1" cy="62.2" r="1.6"/>
<circle cx="288.3" cy="65.9" r="1.6"/>
<circle cx="303.9" cy="57.6" r="1.6"/>
<circle cx="292.7" cy="44.6" r="1.6"/>
<circle cx="290.5" cy="65.1" r="1.6"/>
<circle cx="308.8" cy="47.9" r="1.6"/>
<circle cx="305.4" cy="41.0" r="1.6"/>
<circle cx="305.3" cy="65.0" r="1.6"/>
<circle cx="313.3" cy="48.5" r="1.6"/>
<circle cx="297.6" cy="56.7" r="1.6"/>
<circle cx="281.4" cy="48.2" r="1.6"/>
<circle cx="286.9" cy="64.6" r="1.6"/>
<circle cx="292.7" cy="57.6" r="1.6"/>
<circle cx="293.8" cy="55.5" r="1.6"/>
<circle cx="283.1" cy="63.5" r="1.6"/>
<circle cx="305.1" cy="38.3" r="1.6"/>
<circle cx="299.6" cy="47.1" r="1.6"/>
<circle cx="292.7" cy="37.9" r="1.6"/>
<circle cx="312.1" cy="47.7" r="1.6"/>
<circle cx="297.4" cy="44.9" r="1.6"/>
<circle cx="307.9" cy="47.0" r="1.6"/>
<circle cx="281.7" cy="47.7" r="1.6"/>
<circle cx="304.1" cy="64.5" r="1.6"/>
<circle cx="301.0" cy="68.4" r="1.6"/>
<circle cx="300.3" cy="48.8" r="1.6"/>
<circle cx="288.4" cy="59.1" r="1.6"/>
<circle cx="308.5" cy="66.0" r="1.6"/>
<circle cx="303.1" cy="47.6" r="1.6"/>
<circle cx="291.5" cy="43.4" r="1.6"/>
<circle cx="285.9" cy="52.4" r="1.6"/>
<circle cx="311.5" cy="56.0" r="1.6"/>
<circle cx="302.3" cy="44.5" r="1.6"/>
<circle cx="304.2" cy="60.4" r="1.6"/>
<circle cx="279.5" cy="53.7" r="1.6"/>
<circle cx="283.3" cy="45.1" r="1.6"/>
<circle cx="292.9" cy="43.2" r="1.6"/>
<circle cx="282.8" cy="45.9" r="1.6"/>
<circle cx="302.7" cy="40.6" r="1.6"/>
<circle cx="282.3" cy="57.1" r="1.6"/>
<circle cx="312.8" cy="52.6" r="1.6"/>
<circle cx="293.7" cy="49.1" r="1.6"/>
<circle cx="310.3" cy="48.0" r="1.6"/>
<circle cx="298.5" cy="40.2" r="1.6"/>
<circle cx="306.8" cy="52.1" r="1.6"/>
<circle cx="287.0" cy="54.1" r="1.6"/>
<circle cx="280.9" cy="51.3" r="1.6"/>
<circle cx="309.3" cy="43.2" r="1.6"/>
<circle cx="284.0" cy="58.1" r="1.6"/>
<circle cx="294.8" cy="69.1" r="1.6"/>
<circle cx="300.9" cy="41.8" r="1.6"/>
<circle cx="294.1" cy="47.0" r="1.6"/>
<circle cx="284.2" cy="47.5" r="1.6"/>
<circle cx="278.8" cy="52.7" r="1.6"/>
<circle cx="304.3" cy="43.6" r="1.6"/>
<circle cx="308.1" cy="43.9" r="1.6"/>
<circle cx="311.2" cy="49.5" r="1.6"/>
<circle cx="284.1" cy="56.1" r="1.6"/>
<circle cx="310.9" cy="38.4" r="1.6"/>
<circle cx="296.2" cy="40.9" r="1.6"/>
<circle cx="287.7" cy="66.8" r="1.6"/>
<circle cx="302.5" cy="40.7" r="1.6"/>
<circle cx="301.8" cy="51.8" r="1.6"/>
<circle cx="284.9" cy="47.4" r="1.6"/>
<circle cx="304.5" cy="58.5" r="1.6"/>
<circle cx="311.1" cy="51.6" r="1.6"/>
<circle cx="305.8" cy="47.1" r="1.6"/>
<circle cx="301.3" cy="36.0" r="1.6"/>
<circle cx="308.1" cy="43.7" r="1.6"/>
<circle cx="315.6" cy="60.1" r="1.6"/>
<circle cx="291.6" cy="38.1" r="1.6"/>
<circle cx="313.8" cy="46.7" r="1.6"/>
<circle cx="309.8" cy="40.6" r="1.6"/>
<circle cx="288.7" cy="68.7" r="1.6"/>
<circle cx="288.2" cy="44.7" r="1.6"/>
<circle cx="293.4" cy="58.4" r="1.6"/>
<circle cx="277.7" cy="61.4" r="1.6"/>
<circle cx="295.5" cy="54.8" r="1.6"/>
<circle cx="284.7" cy="65.9" r="1.6"/>
<circle cx="314.5" cy="60.5" r="1.6"/>
<circle cx="292.7" cy="62.9" r="1.6"/>
<circle cx="295.6" cy="63.3" r="1.6"/>
<circle cx="315.8" cy="46.7" r="1.6"/>
<circle cx="298.4" cy="54.3" r="1.6"/>
<circle cx="293.4" cy="37.6" r="1.6"/>
<circle cx="291.1" cy="67.3" r="1.6"/>
<circle cx="302.0" cy="40.8" r="1.6"/>
<circle cx="279.2" cy="63.8" r="1.6"/>
<circle cx="300.9" cy="53.1" r="1.6"/>
<circle cx="301.1" cy="37.8" r="1.6"/>
<circle cx="315.0" cy="55.0" r="1.6"/>
<circle cx="297.2" cy="53.6" r="1.6"/>
<circle cx="284.2" cy="44.7" r="1.6"/>
<circle cx="289.5" cy="43.3" r="1.6"/>
<circle cx="305.4" cy="63.7" r="1.6"/>
<circle cx="284.1" cy="61.0" r="1.6"/>
<circle cx="303.6" cy="39.1" r="1.6"/>
<circle cx="292.1" cy="52.6" r="1.6"/>
<circle cx="311.5" cy="49.3" r="1.6"/>
<circle cx="298.4" cy="69.1" r="1.6"/>
<circle cx="306.8" cy="44.3" r="1.6"/>
<circle cx="285.1" cy="52.0" r="1.6"/>
<circle cx="300.5" cy="69.8" r="1.6"/>
<circle cx="314.3" cy="60.0" r="1.6"/>
<circle cx="279.7" cy="60.6" r="1.6"/>
<circle cx="286.5" cy="54.7" r="1.6"/>
<circle cx="301.3" cy="47.2" r="1.6"/>
<circle cx="293.7" cy="39.3" r="1.6"/>
<circle cx="294.8" cy="54.6" r="1.6"/>
<circle cx="316.7" cy="51.3" r="1.6"/>
<circle cx="314.5" cy="61.2" r="1.6"/>
<circle cx="300.5" cy="43.9" r="1.6"/>
<circle cx="302.1" cy="43.6" r="1.6"/>
<circle cx="304.1" cy="66.4" r="1.6"/>
<circle cx="299.5" cy="43.7" r="1.6"/>
<circle cx="297.5" cy="51.1" r="1.6"/>
<circle cx="313.2" cy="40.1" r="1.6"/>
<circle cx="291.4" cy="61.1" r="1.6"/>
<circle cx="283.3" cy="62.1" r="1.6"/>
<circle cx="316.1" cy="47.2" r="1.6"/>
<circle cx="287.8" cy="55.8" r="1.6"/>
<circle cx="294.8" cy="41.8" r="1.6"/>
<circle cx="288.1" cy="53.5" r="1.6"/>
<circle cx="286.0" cy="48.4" r="1.6"/>
<circle cx="281.4" cy="61.0" r="1.6"/>
<circle cx="312.5" cy="52.0" r="1.6"/>
<circle cx="302.1" cy="57.3" r="1.6"/>
<circle cx="287.9" cy="64.6" r="1.6"/>
<circle cx="296.5" cy="55.6" r="1.6"/>
<circle cx="301.7" cy="50.8" r="1.6"/>
<circle cx="286.8" cy="48.1" r="1.6"/>
<circle cx="286.4" cy="58.0" r="1.6"/>
<circle cx="293.8" cy="58.0" r="1.6"/>
<circle cx="309.1" cy="39.8" r="1.6"/>
<circle cx="299.7" cy="52.4" r="1.6"/>
<circle cx="292.4" cy="65.2" r="1.6"/>
<circle cx="311.8" cy="46.1" r="1.6"/>
<circle cx="278.5" cy="56.4" r="1.6"/>
<circle cx="297.8" cy="61.9" r="1.6"/>
<circle cx="278.5" cy="50.5" r="1.6"/>
<circle cx="281.6" cy="53.4" r="1.6"/>
<circle cx="293.6" cy="61.3" r="1.6"/>
<circle cx="306.3" cy="63.0" r="1.6"/>
<circle cx="310.7" cy="49.3" r="1.6"/>
<circle cx="310.0" cy="57.8" r="1.6"/>
<circle cx="307.7" cy="48.9" r="1.6"/>
<circle cx="311.4" cy="56.0" r="1.6"/>
<circle cx="309.2" cy="52.3" r="1.6"/>
<circle cx="302.8" cy="68.3" r="1.6"/>
<circle cx="299.5" cy="49.8" r="1.6"/>
<circle cx="313.3" cy="61.2" r="1.6"/>
<circle cx="300.4" cy="48.1" r="1.6"/>
<circle cx="295.1" cy="52.9" r="1.6"/>
<circle cx="304.1" cy="43.6" r="1.6"/>
<circle cx="293.7" cy="56.9" r="1.6"/>
<circle cx="290.8" cy="49.5" r="1.6"/>
<circle cx="313.2" cy="60.4" r="1.6"/>
<circle cx="296.8" cy="51.7" r="1.6"/>
<circle cx="282.5" cy="51.9" r="1.6"/>
<circle cx="284.0" cy="61.1" r="1.6"/>
<circle cx="296.0" cy="39.1" r="1.6"/>
<circle cx="312.4" cy="41.7" r="1.6"/>
<circle cx="315.3" cy="59.3" r="1.6"/>
<circle cx="299.3" cy="67.7" r="1.6"/>
<circle cx="300.1" cy="52.5" r="1.6"/>
<circle cx="304.9" cy="68.9" r="1.6"/>
<circle cx="298.4" cy="53.8" r="1.6"/>
<circle cx="303.7" cy="47.2" r="1.6"/>
<circle cx="292.9" cy="58.6" r="1.6"/>
<circle cx="296.7" cy="70.0" r="1.6"/>
<circle cx="304.9" cy="51.7" r="1.6"/>
<circle cx="279.8" cy="55.4" r="1.6"/>
<circle cx="294.2" cy="56.9" r="1.6"/>
<circle cx="304.9" cy="64.5" r="1.6"/>
<circle cx="316.1" cy="46.2" r="1.6"/>
<circle cx="296.5" cy="58.4" r="1.6"/>
<circle cx="302.4" cy="63.1" r="1.6"/>
<circle cx="282.1" cy="52.5" r="1.6"/>
<circle cx="293.5" cy="40.9" r="1.6"/>
<circle cx="315.6" cy="53.8" r="1.6"/>
<circle cx="312.3" cy="45.3" r="1.6"/>
<circle cx="281.2" cy="51.8" r="1.6"/>
<circle cx="298.0" cy="53.5" r="1.6"/>
<circle cx="281.2" cy="47.9" r="1.6"/>
<circle cx="304.0" cy="54.9" r="1.6"/>
<circle cx="297.7" cy="36.9" r="1.6"/>
<circle cx="297.3" cy="64.0" r="1.6"/>
<circle cx="291.9" cy="62.4" r="1.6"/>
<circle cx="312.3" cy="51.2" r="1.6"/>
<circle cx="300.8" cy="41.3" r="1.6"/>
<circle cx="298.0" cy="55.2" r="1.6"/>
<circle cx="289.8" cy="61.6" r="1.6"/>
<circle cx="304.6" cy="68.9" r="1.6"/>
<circle cx="299.5" cy="49.6" r="1.6"/>
<circle cx="303.4" cy="37.1" r="1.6"/>
<circle cx="302.2" cy="63.5" r="1.6"/>
<circle cx="305.6" cy="61.6" r="1.6"/>
<circle cx="306.4" cy="43.9" r="1.6"/>
<circle cx="304.5" cy="45.7" r="1.6"/>
<circle cx="281.4" cy="50.9" r="1.6"/>
<circle cx="299.1" cy="47.5" r="1.6"/>
<circle cx="294.1" cy="50.6" r="1.6"/>
<circle cx="306.2" cy="67.0" r="1.6"/>
<circle cx="296.5" cy="58.2" r="1.6"/>
<circle cx="294.7" cy="69.0" r="1.6"/>
<circle cx="308.0" cy="42.6" r="1.6"/>
<circle cx="307.0" cy="66.7" r="1.6"/>
<circle cx="302.5" cy="67.9" r="1.6"/>
<circle cx="285.8" cy="53.8" r="1.6"/>
<circle cx="303.1" cy="41.4" r="1.6"/>
<circle cx="294.2" cy="68.3" r="1.6"/>
<circle cx="300.3" cy="63.1" r="1.6"/>
<circle cx="283.3" cy="46.8" r="1.6"/>
<circle cx="288.1" cy="45.6" r="1.6"/>
<circle cx="295.5" cy="40.3" r="1.6"/>
<circle cx="297.5" cy="49.3" r="1.6"/>
<circle cx="288.5" cy="41.0" r="1.6"/>
<circle cx="286.1" cy="69.5" r="1.6"/>
<circle cx="288.5" cy="47.5" r="1.6"/>
<circle cx="282.5" cy="51.1" r="1.6"/>
<circle cx="302.3" cy="46.0" r="1.6"/>
<circle cx="286.0" cy="65.1" r="1.6"/>
<circle cx="278.4" cy="52.1" r="1.6"/>
<circle cx="299.1" cy="65.1" r="1.6"/>
<circle cx="305.9" cy="38.1" r="1.6"/>
<circle cx="294.1" cy="62.8" r="1.6"/>
<circle cx="297.9" cy="70.0" r="1.6"/>
<circle cx="294.5" cy="44.7" r="1.6"/>
<circle cx="291.3" cy="42.4" r="1.6"/>
<circle cx="303.1" cy="42.8" r="1.6"/>
<circle cx="314.7" cy="50.4" r="1.6"/>
<circle cx="289.2" cy="47.3" r="1.6"/>
<circle cx="298.5" cy="42.7" r="1.6"/>
<circle cx="298.5" cy="54.7" r="1.6"/>
<circle cx="291.4" cy="65.6" r="1.6"/>
<circle cx="294.7" cy="60.2" r="1.6"/>
<circle cx="298.0" cy="46.5" r="1.6"/>
<circle cx="288.2" cy="41.9" r="1.6"/>
<circle cx="288.5" cy="69.5" r="1.6"/>
<circle cx="292.2" cy="61.3" r="1.6"/>
<circle cx="282.4" cy="61.2" r="1.6"/>
<circle cx="291.9" cy="55.5" r="1.6"/>
<circle cx="284.2" cy="42.6" r="1.6"/>
<circle cx="286.7" cy="47.5" r="1.6"/>
<circle cx="284.9" cy="65.9" r="1.6"/>
<circle cx="287.6" cy="53.6" r="1.6"/>
<circle cx="317.2" cy="56.3" r="1.6"/>
<circle cx="280.0" cy="51.8" r="1.6"/>
<circle cx="302.4" cy="46.3" r="1.6"/>
<circle cx="295.8" cy="59.9" r="1.6"/>
<circle cx="302.6" cy="42.5" r="1.6"/>
<circle cx="309.8" cy="43.7" r="1.6"/>
<circle cx="299.0" cy="41.4" r="1.6"/>
<circle cx="309.4" cy="56.8" r="1.6"/>
<circle cx="280.3" cy="48.8" r="1.6"/>
<circle cx="288.2" cy="52.6" r="1.6"/>
<circle cx="276.7" cy="54.2" r="1.6"/>
<circle cx="299.4" cy="41.2" r="1.6"/>
<circle cx="312.0" cy="50.7" r="1.6"/>
<circle cx="303.4" cy="42.5" r="1.6"/>
<circle cx="297.0" cy="60.3" r="1.6"/>
<circle cx="314.2" cy="57.4" r="1.6"/>
<circle cx="313.1" cy="51.7" r="1.6"/>
<circle cx="285.2" cy="68.5" r="1.6"/>
<circle cx="302.8" cy="36.6" r="1.6"/>
<circle cx="304.1" cy="47.2" r="1.6"/>
<circle cx="311.3" cy="60.4" r="1.6"/>
<circle cx="283.9" cy="43.6" r="1.6"/>
<circle cx="314.7" cy="44.5" r="1.6"/>
<circle cx="317.1" cy="53.3" r="1.6"/>
<circle cx="311.0" cy="60.5" r="1.6"/>
<circle cx="302.1" cy="50.1" r="1.6"/>
<circle cx="281.8" cy="66.4" r="1.6"/>
<circle cx="294.7" cy="54.9" r="1.6"/>
<circle cx="309.2" cy="60.3" r="1.6"/>
<circle cx="288.4" cy="58.5" r="1.6"/>
<circle cx="318.1" cy="51.0" r="1.6"/>
<circle cx="296.4" cy="44.9" r="1.6"/>
<circle cx="278.0" cy="55.4" r="1.6"/>
<circle cx="290.5" cy="45.3" r="1.6"/>
<circle cx="285.6" cy="44.7" r="1.6"/>
<circle cx="307.8" cy="55.9" r="1.6"/>
<circle cx="283.9" cy="49.1" r="1.6"/>
<circle cx="297.5" cy="51.5" r="1.6"/>
<circle cx="313.4" cy="42.3" r="1.6"/>
<circle cx="293.9" cy="68.7" r="1.6"/>
<circle cx="283.8" cy="60.8" r="1.6"/>
<circle cx="294.4" cy="66.0" r="1.6"/>
<circle cx="302.5" cy="61.1" r="1.6"/>
<circle cx="286.1" cy="63.7" r="1.6"/>
<circle cx="301.0" cy="50.8" r="1.6"/>
<circle cx="312.1" cy="60.2" r="1.6"/>
<circle cx="279.5" cy="52.4" r="1.6"/>
<circle cx="288.4" cy="46.2" r="1.6"/>
<circle cx="277.2" cy="53.0" r="1.6"/>
<circle cx="287.6" cy="64.4" r="1.6"/>
<circle cx="290.9" cy="41.9" r="1.6"/>
<circle cx="290.0" cy="55.1" r="1.6"/>
<circle cx="288.1" cy="44.9" r="1.6"/>
<circle cx="283.2" cy="66.6" r="1.6"/>
<circle cx="317.6" cy="48.5" r="1.6"/>
<circle cx="281.6" cy="58.9" r="1.6"/>
<circle cx="291.2" cy="44.6" r="1.6"/>
<circle cx="293.5" cy="37.2" r="1.6"/>
<circle cx="316.1" cy="51.9" r="1.6"/>
<circle cx="307.7" cy="65.5" r="1.6"/>
<circle cx="290.2" cy="52.8" r="1.6"/>
<circle cx="297.6" cy="60.1" r="1.6"/>
<circle cx="312.8" cy="52.4" r="1.6"/>
<circle cx="298.3" cy="49.1" r="1.6"/>
<circle cx="304.9" cy="63.9" r="1.6"/>
<circle cx="303.0" cy="37.4" r="1.6"/>
<circle cx="308.3" cy="64.5" r="1.6"/>
<circle cx="299.5" cy="42.4" r="1.6"/>
<circle cx="294.8" cy="61.3" r="1.6"/>
<circle cx="297.6" cy="48.8" r="1.6"/>
<circle cx="290.5" cy="65.9" r="1.6"/>
<circle cx="287.7" cy="70.8" r="1.6"/>
<circle cx="297.0" cy="58.1" r="1.6"/>
<circle cx="282.4" cy="56.1" r="1.6"/>
<circle cx="298.4" cy="43.1" r="1.6"/>
<circle cx="311.0" cy="39.0" r="1.6"/>
<circle cx="285.1" cy="60.3" r="1.6"/>
<circle cx="302.3" cy="59.7" r="1.6"/>
<circle cx="292.1" cy="55.7" r="1.6"/>
<circle cx="292.4" cy="52.6" r="1.6"/>
<circle cx="275.2" cy="71.4" r="1.6"/>
<circle cx="298.7" cy="56.3" r="1.6"/>
<circle cx="291.0" cy="59.9" r="1.6"/>
<circle cx="295.7" cy="55.5" r="1.6"/>
<circle cx="301.5" cy="39.9" r="1.6"/>
<circle cx="295.5" cy="47.5" r="1.6"/>
<circle cx="297.1" cy="67.9" r="1.6"/>
<circle cx="286.0" cy="58.8" r="1.6"/>
<circle cx="293.2" cy="64.8" r="1.6"/>
<circle cx="282.7" cy="47.1" r="1.6"/>
<circle cx="299.7" cy="51.8" r="1.6"/>
<circle cx="296.0" cy="64.9" r="1.6"/>
<circle cx="287.0" cy="56.2" r="1.6"/>
<circle cx="298.4" cy="58.5" r="1.6"/>
<circle cx="294.1" cy="65.2" r="1.6"/>
<circle cx="315.2" cy="45.7" r="1.6"/>
<circle cx="307.3" cy="34.6" r="1.6"/>
<circle cx="307.8" cy="48.9" r="1.6"/>
<circle cx="296.3" cy="53.1" r="1.6"/>
<circle cx="286.9" cy="48.9" r="1.6"/>
<circle cx="295.8" cy="66.7" r="1.6"/>
<circle cx="305.4" cy="49.7" r="1.6"/>
<circle cx="289.4" cy="52.7" r="1.6"/>
<circle cx="289.9" cy="73.0" r="1.6"/>
<circle cx="302.3" cy="54.7" r="1.6"/>
<circle cx="288.9" cy="50.2" r="1.6"/>
<circle cx="309.9" cy="57.3" r="1.6"/>
<circle cx="290.0" cy="66.3" r="1.6"/>
<circle cx="287.7" cy="64.3" r="1.6"/>
<circle cx="286.2" cy="56.2" r="1.6"/>
<circle cx="301.6" cy="57.5" r="1.6"/>
<circle cx="302.9" cy="46.6" r="1.6"/>
<circle cx="313.8" cy="60.5" r="1.6"/>
<circle cx="297.1" cy="59.4" r="1.6"/>
<circle cx="288.6" cy="57.5" r="1.6"/>
<circle cx="284.3" cy="61.0" r="1.6"/>
<circle cx="301.3" cy="65.0" r="1.6"/>
<circle cx="306.7" cy="58.8" r="1.6"/>
<circle cx="292.1" cy="55.6" r="1.6"/>
<circle cx="293.5" cy="58.7" r="1.6"/>
<circle cx="280.6" cy="67.9" r="1.6"/>
<circle cx="280.5" cy="57.4" r="1.6"/>
<circle cx="294.9" cy="52.2" r="1.6"/>
<circle cx="310.7" cy="49.8" r="1.6"/>
<circle cx="313.3" cy="59.3" r="1.6"/>
<circle cx="292.6" cy="60.5" r="1.6"/>
<circle cx="306.8" cy="49.3" r="1.6"/>
<circle cx="295.3" cy="51.7" r="1.6"/>
<circle cx="295.6" cy="53.3" r="1.6"/>
<circle cx="299.4" cy="63.0" r="1.6"/>
<circle cx="308.9" cy="52.4" r="1.6"/>
<circle cx="300.1" cy="61.5" r="1.6"/>
<circle cx="290.6" cy="49.3" r="1.6"/>
<circle cx="303.6" cy="45.6" r="1.6"/>
<circle cx="301.9" cy="46.0" r="1.6"/>
<circle cx="309.8" cy="42.5" r="1.6"/>
<circle cx="307.6" cy="64.0" r="1.6"/>
<circle cx="291.2" cy="69.9" r="1.6"/>
<circle cx="283.9" cy="46.0" r="1.6"/>
<circle cx="304.4" cy="58.7" r="1.6"/>
<circle cx="287.5" cy="38.4" r="1.6"/>
<circle cx="294.7" cy="54.0" r="1.6"/>
<circle cx="291.8" cy="55.2" r="1.6"/>
<circle cx="278.4" cy="57.8" r="1.6"/>
<circle cx="316.3" cy="61.3" r="1.6"/>
<circle cx="290.9" cy="52.0" r="1.6"/>
<circle cx="302.4" cy="62.4" r="1.6"/>
<circle cx="299.5" cy="45.2" r="1.6"/>
<circle cx="297.8" cy="56.5" r="1.6"/>
<circle cx="312.1" cy="59.9" r="1.6"/>
<circle cx="303.9" cy="63.1" r="1.6"/>
<circle cx="296.5" cy="68.4" r="1.6"/>
<circle cx="293.2" cy="60.3" r="1.6"/>
<circle cx="301.9" cy="46.4" r="1.6"/>
<circle cx="285.0" cy="45.6" r="1.6"/>
<circle cx="297.3" cy="55.1" r="1.6"/>
<circle cx="294.4" cy="60.7" r="1.6"/>
<circle cx="276.8" cy="62.8" r="1.6"/>
<circle cx="296.1" cy="53.8" r="1.6"/>
<circle cx="307.8" cy="66.0" r="1.6"/>
<circle cx="289.5" cy="50.7" r="1.6"/>
<circle cx="290.8" cy="58.7" r="1.6"/>
<circle cx="299.0" cy="47.9" r="1.6"/>
<circle cx="302.3" cy="45.3" r="1.6"/>
<circle cx="304.6" cy="56.4" r="1.6"/>
<circle cx="305.8" cy="70.0" r="1.6"/>
<circle cx="293.2" cy="55.7" r="1.6"/>
<circle cx="302.6" cy="60.7" r="1.6"/>
<circle cx="284.6" cy="62.4" r="1.6"/>
<circle cx="291.0" cy="63.0" r="1.6"/>
<circle cx="308.5" cy="51.9" r="1.6"/>
<circle cx="295.5" cy="57.7" r="1.6"/>
<circle cx="271.4" cy="71.3" r="1.6"/>
<circle cx="301.5" cy="55.3" r="1.6"/>
<circle cx="290.5" cy="52.0" r="1.6"/>
<circle cx="297.6" cy="65.3" r="1.6"/>
<circle cx="298.6" cy="66.1" r="1.6"/>
<circle cx="271.6" cy="61.1" r="1.6"/>
<circle cx="298.4" cy="55.0" r="1.6"/>
<circle cx="279.3" cy="56.7" r="1.6"/>
<circle cx="303.9" cy="42.6" r="1.6"/>
<circle cx="284.2" cy="51.3" r="1.6"/>
<circle cx="292.7" cy="62.5" r="1.6"/>
<circle cx="296.0" cy="39.4" r="1.6"/>
<circle cx="307.6" cy="46.9" r="1.6"/>
<circle cx="295.1" cy="70.0" r="1.6"/>
<circle cx="292.0" cy="47.3" r="1.6"/>
<circle cx="288.3" cy="52.9" r="1.6"/>
<circle cx="286.0" cy="56.9" r="1.6"/>
<circle cx="304.8" cy="55.6" r="1.6"/>
<circle cx="290.9" cy="80.6" r="1.6"/>
<circle cx="287.4" cy="60.1" r="1.6"/>
<circle cx="298.3" cy="61.4" r="1.6"/>
<circle cx="294.2" cy="60.4" r="1.6"/>
<circle cx="315.2" cy="49.8" r="1.6"/>
<circle cx="287.1" cy="61.9" r="1.6"/>
<circle cx="287.8" cy="56.0" r="1.6"/>
<circle cx="298.6" cy="57.8" r="1.6"/>
<circle cx="295.7" cy="63.1" r="1.6"/>
<circle cx="290.8" cy="47.2" r="1.6"/>
<circle cx="303.0" cy="50.5" r="1.6"/>
<circle cx="305.2" cy="47.3" r="1.6"/>
<circle cx="302.0" cy="56.4" r="1.6"/>
<circle cx="267.7" cy="54.1" r="1.6"/>
<circle cx="289.6" cy="69.8" r="1.6"/>
<circle cx="281.4" cy="68.8" r="1.6"/>
<circle cx="307.2" cy="56.0" r="1.6"/>
<circle cx="300.8" cy="50.2" r="1.6"/>
<circle cx="296.5" cy="57.7" r="1.6"/>
<circle cx="301.7" cy="59.7" r="1.6"/>
<circle cx="292.3" cy="51.6" r="1.6"/>
<circle cx="292.0" cy="60.8" r="1.6"/>
<circle cx="277.7" cy="52.4" r="1.6"/>
<circle cx="290.8" cy="53.4" r="1.6"/>
<circle cx="286.6" cy="37.7" r="1.6"/>
<circle cx="292.3" cy="55.3" r="1.6"/>
<circle cx="297.8" cy="39.2" r="1.6"/>
<circle cx="294.5" cy="60.4" r="1.6"/>
<circle cx="303.6" cy="63.0" r="1.6"/>
<circle cx="302.8" cy="45.0" r="1.6"/>
<circle cx="300.9" cy="51.5" r="1.6"/>
<circle cx="292.8" cy="69.7" r="1.6"/>
<circle cx="288.1" cy="51.9" r="1.6"/>
<circle cx="290.1" cy="51.2" r="1.6"/>
<circle cx="306.1" cy="55.4" r="1.6"/>
<circle cx="309.7" cy="54.4" r="1.6"/>
<circle cx="293.2" cy="65.6" r="1.6"/>
<circle cx="288.9" cy="54.8" r="1.6"/>
<circle cx="294.6" cy="56.8" r="1.6"/>
<circle cx="305.2" cy="47.7" r="1.6"/>
<circle cx="299.1" cy="54.6" r="1.6"/>
<circle cx="281.7" cy="52.2" r="1.6"/>
<circle cx="295.1" cy="59.6" r="1.6"/>
<circle cx="300.2" cy="58.4" r="1.6"/>
<circle cx="295.3" cy="52.6" r="1.6"/>
<circle cx="297.2" cy="47.3" r="1.6"/>
<circle cx="283.0" cy="58.0" r="1.6"/>
<circle cx="281.7" cy="57.0" r="1.6"/>
<circle cx="287.8" cy="54.4" r="1.6"/>
<circle cx="293.5" cy="50.4" r="1.6"/>
<circle cx="287.7" cy="45.0" r="1.6"/>
<circle cx="295.0" cy="49.1" r="1.6"/>
<circle cx="292.2" cy="34.2" r="1.6"/>
<circle cx="289.4" cy="60.4" r="1.6"/>
<circle cx="272.9" cy="61.4" r="1.6"/>
<circle cx="297.1" cy="56.4" r="1.6"/>
<circle cx="283.0" cy="62.6" r="1.6"/>
<circle cx="294.8" cy="48.5" r="1.6"/>
<circle cx="302.6" cy="53.2" r="1.6"/>
<circle cx="295.0" cy="52.7" r="1.6"/>
<circle cx="301.2" cy="54.9" r="1.6"/>
<circle cx="307.5" cy="55.5" r="1.6"/>
<circle cx="289.8" cy="56.4" r="1.6"/>
<circle cx="303.4" cy="50.3" r="1.6"/>
<circle cx="300.9" cy="58.5" r="1.6"/>
<circle cx="288.2" cy="39.7" r="1.6"/>
<circle cx="297.8" cy="57.1" r="1.6"/>
<circle cx="295.2" cy="50.0" r="1.6"/>
<circle cx="306.6" cy="51.0" r="1.6"/>
<circle cx="288.4" cy="52.8" r="1.6"/>
<circle cx="282.2" cy="69.0" r="1.6"/>
<circle cx="285.2" cy="88.6" r="1.6"/>
<circle cx="296.0" cy="68.6" r="1.6"/>
<circle cx="294.7" cy="66.7" r="1.6"/>
<circle cx="277.9" cy="91.2" r="1.6"/>
<circle cx="293.5" cy="67.3" r="1.6"/>
<circle cx="276.4" cy="93.4" r="1.6"/>
<circle cx="290.7" cy="63.3" r="1.6"/>
<circle cx="287.7" cy="76.5" r="1.6"/>
<circle cx="287.5" cy="79.0" r="1.6"/>
<circle cx="287.1" cy="76.5" r="1.6"/>
<circle cx="279.0" cy="69.8" r="1.6"/>
<circle cx="289.6" cy="92.2" r="1.6"/>
<circle cx="290.6" cy="77.0" r="1.6"/>
<circle cx="297.5" cy="71.9" r="1.6"/>
<circle cx="285.2" cy="69.0" r="1.6"/>
<circle cx="277.0" cy="68.9" r="1.6"/>
<circle cx="286.2" cy="79.2" r="1.6"/>
<circle cx="271.3" cy="91.7" r="1.6"/>
<circle cx="294.1" cy="73.0" r="1.6"/>
<circle cx="275.8" cy="79.9" r="1.6"/>
<circle cx="268.5" cy="85.8" r="1.6"/>
<circle cx="295.0" cy="77.5" r="1.6"/>
<circle cx="282.0" cy="87.8" r="1.6"/>
<circle cx="284.8" cy="70.3" r="1.6"/>
<circle cx="288.3" cy="50.8" r="1.6"/>
<circle cx="284.4" cy="76.2" r="1.6"/>
<circle cx="304.0" cy="64.8" r="1.6"/>
<circle cx="298.6" cy="58.6" r="1.6"/>
<circle cx="295.2" cy="72.0" r="1.6"/>
<circle cx="288.5" cy="72.3" r="1.6"/>
<circle cx="281.3" cy="75.1" r="1.6"/>
<circle cx="283.6" cy="90.2" r="1.6"/>
<circle cx="273.5" cy="71.8" r="1.6"/>
<circle cx="285.5" cy="72.9" r="1.6"/>
<circle cx="291.9" cy="79.4" r="1.6"/>
<circle cx="282.3" cy="75.0" r="1.6"/>
<circle cx="279.3" cy="80.5" r="1.6"/>
<circle cx="282.0" cy="78.9" r="1.6"/>
<circle cx="305.0" cy="53.0" r="1.6"/>
<circle cx="285.8" cy="87.4" r="1.6"/>
<circle cx="292.4" cy="71.1" r="1.6"/>
<circle cx="291.5" cy="72.2" r="1.6"/>
<circle cx="293.5" cy="74.4" r="1.6"/>
<circle cx="295.3" cy="71.7" r="1.6"/>
<circle cx="280.9" cy="78.7" r="1.6"/>
<circle cx="283.0" cy="83.4" r="1.6"/>
<circle cx="287.5" cy="67.3" r="1.6"/>
<circle cx="297.4" cy="78.9" r="1.6"/>
<circle cx="287.6" cy="62.3" r="1.6"/>
<circle cx="285.8" cy="77.7" r="1.6"/>
<circle cx="285.2" cy="76.5" r="1.6"/>
<circle cx="292.6" cy="67.2" r="1.6"/>
<circle cx="279.8" cy="85.4" r="1.6"/>
<circle cx="283.8" cy="76.1" r="1.6"/>
<circle cx="275.3" cy="74.9" r="1.6"/>
<circle cx="274.9" cy="83.2" r="1.6"/>
<circle cx="267.2" cy="74.5" r="1.6"/>
<circle cx="286.9" cy="62.8" r="1.6"/>
<circle cx="281.4" cy="82.1" r="1.6"/>
<circle cx="273.9" cy="97.2" r="1.6"/>
<circle cx="281.7" cy="82.8" r="1.6"/>
<circle cx="282.1" cy="79.6" r="1.6"/>
<circle cx="284.7" cy="74.2" r="1.6"/>
<circle cx="267.1" cy="84.0" r="1.6"/>
<circle cx="289.0" cy="79.7" r="1.6"/>
<circle cx="282.6" cy="80.7" r="1.6"/>
<circle cx="286.8" cy="75.3" r="1.6"/>
<circle cx="284.6" cy="62.9" r="1.6"/>
<circle cx="285.1" cy="72.4" r="1.6"/>
<circle cx="278.9" cy="74.7" r="1.6"/>
<circle cx="275.2" cy="77.6" r="1.6"/>
<circle cx="286.5" cy="91.1" r="1.6"/>
<circle cx="294.7" cy="62.3" r="1.6"/>
<circle cx="285.0" cy="66.4" r="1.6"/>
<circle cx="259.8" cy="90.1" r="1.6"/>
<circle cx="290.3" cy="78.5" r="1.6"/>
<circle cx="280.0" cy="72.2" r="1.6"/>
<circle cx="278.8" cy="73.7" r="1.6"/>
<circle cx="274.4" cy="84.7" r="1.6"/>
<circle cx="278.5" cy="75.4" r="1.6"/>
<circle cx="275.0" cy="78.7" r="1.6"/>
<circle cx="290.7" cy="77.6" r="1.6"/>
<circle cx="291.0" cy="83.6" r="1.6"/>
<circle cx="274.9" cy="87.9" r="1.6"/>
<circle cx="276.2" cy="83.1" r="1.6"/>
<circle cx="286.7" cy="76.0" r="1.6"/>
<circle cx="289.0" cy="64.8" r="1.6"/>
<circle cx="275.5" cy="83.7" r="1.6"/>
<circle cx="283.2" cy="70.6" r="1.6"/>
<circle cx="295.9" cy="73.6" r="1.6"/>
<circle cx="276.4" cy="86.8" r="1.6"/>
<circle cx="283.2" cy="61.4" r="1.6"/>
<circle cx="284.4" cy="72.8" r="1.6"/>
<circle cx="280.0" cy="89.7" r="1.6"/>
<circle cx="283.6" cy="71.9" r="1.6"/>
<circle cx="289.2" cy="73.7" r="1.6"/>
<circle cx="291.0" cy="71.1" r="1.6"/>
<circle cx="282.2" cy="68.3" r="1.6"/>
<circle cx="281.8" cy="78.5" r="1.6"/>
<circle cx="274.6" cy="102.3" r="1.6"/>
<circle cx="277.7" cy="74.5" r="1.6"/>
<circle cx="273.5" cy="89.4" r="1.6"/>
<circle cx="282.0" cy="72.9" r="1.6"/>
<circle cx="278.1" cy="75.3" r="1.6"/>
<circle cx="278.9" cy="80.3" r="1.6"/>
<circle cx="282.5" cy="81.9" r="1.6"/>
<circle cx="283.6" cy="76.5" r="1.6"/>
<circle cx="291.3" cy="76.0" r="1.6"/>
<circle cx="288.6" cy="71.2" r="1.6"/>
<circle cx="280.0" cy="73.7" r="1.6"/>
<circle cx="284.4" cy="79.7" r="1.6"/>
<circle cx="284.0" cy="72.1" r="1.6"/>
<circle cx="269.9" cy="80.1" r="1.6"/>
<circle cx="289.8" cy="75.8" r="1.6"/>
<circle cx="281.2" cy="67.9" r="1.6"/>
<circle cx="283.5" cy="77.3" r="1.6"/>
<circle cx="279.5" cy="82.9" r="1.6"/>
<circle cx="279.6" cy="73.9" r="1.6"/>
<circle cx="279.2" cy="86.8" r="1.6"/>
<circle cx="255.0" cy="56.0" r="1.6"/>
<circle cx="262.0" cy="58.0" r="1.6"/>
<circle cx="248.0" cy="58.0" r="1.6"/>
<circle cx="270.0" cy="40.0" r="1.6"/>
<circle cx="275.0" cy="36.0" r="1.6"/>
<circle cx="283.0" cy="34.0" r="1.6"/>
<circle cx="288.0" cy="30.0" r="1.6"/>
<circle cx="299.0" cy="27.0" r="1.6"/>
<circle cx="305.0" cy="33.0" r="1.6"/>
<circle cx="318.0" cy="45.0" r="1.6"/>
<circle cx="322.0" cy="52.0" r="1.6"/>
<circle cx="325.0" cy="62.0" r="1.6"/>
<circle cx="320.0" cy="66.0" r="1.6"/>
<circle cx="265.0" cy="84.0" r="1.6"/>
<circle cx="262.0" cy="78.0" r="1.6"/>
<circle cx="270.0" cy="92.0" r="1.6"/>
<circle cx="276.0" cy="96.0" r="1.6"/>
<circle cx="278.0" cy="88.0" r="1.6"/>
<circle cx="283.0" cy="95.0" r="1.6"/>
<circle cx="286.0" cy="89.0" r="1.6"/>
<circle cx="292.0" cy="84.0" r="1.6"/>
<circle cx="297.0" cy="80.0" r="1.6"/>
<circle cx="285.0" cy="108.0" r="1.6"/>
<circle cx="296.0" cy="96.0" r="1.6"/>
<circle cx="305.5" cy="96.0" r="1.6"/>
</g>
<g fill="#da4654" fill-opacity="0.88">
<circle cx="272" cy="51.4" r="1.7"/>
<circle cx="281" cy="67.6" r="1.7"/>
<circle cx="291" cy="72.4" r="1.7"/>
<circle cx="285" cy="76.1" r="1.7"/>
<circle cx="302.4" cy="75.3" r="1.7"/>
<circle cx="284.9" cy="80.9" r="1.7"/>
<circle cx="260" cy="84.9" r="1.7"/>
<circle cx="266.2" cy="88" r="1.7"/>
<circle cx="272.3" cy="80.9" r="1.7"/>
<circle cx="290.7" cy="93.3" r="1.7"/>
<circle cx="289.3" cy="98" r="1.7"/>
<circle cx="283.2" cy="101.9" r="1.7"/>
<circle cx="278.8" cy="104.7" r="1.7"/>
<circle cx="272.7" cy="104.7" r="1.7"/>
<circle cx="264.4" cy="102.4" r="1.7"/>
<circle cx="258.3" cy="105" r="1.7"/>
<circle cx="249.4" cy="102.9" r="1.7"/>
<circle cx="263.9" cy="109.4" r="1.7"/>
<circle cx="268.6" cy="109.4" r="1.7"/>
<circle cx="271.4" cy="113.3" r="1.7"/>
</g>
<g fill="#c83c4a" stroke="#2a0a10" stroke-width="0.65">
<circle cx="303.1" cy="58.3" r="1.8"/><circle cx="298.4" cy="61.5" r="1.8"/>
</g>
<circle cx="307" cy="45.6" r="1.8" fill="#2f5498"/>
<g fill="none" stroke="#3a3a3a" stroke-width="0.55">
<polyline points="307,45.6 319.6,34.3 324,34.3"/>
<polyline points="303.1,58.3 317.3,70.4 322.3,70.4"/>
<polyline points="298.4,61.5 318.5,82.8 323.5,82.8"/>
</g>
<g fill="none" stroke="#8a8a8a" stroke-width="0.55">
<line x1="249.4" y1="98" x2="249.4" y2="102.9"/>
<polyline points="272.7,104.7 296.5,102.3"/>
<polyline points="268.6,109.4 296.5,110.4"/>
<polyline points="271.4,113.3 296.5,116.6"/>
</g>
<text x="326.4" y="35.69" font-size="6.4" text-anchor="start" font-weight="normal" fill="#111" >CTRL</text>
<text x="325.0" y="72.86" font-size="6.3" text-anchor="start" font-weight="bold" fill="#000"  style="stroke-width:0.18px;stroke:#000">HNF1B</text>
<text x="327.0" y="84.92" font-size="6.2" text-anchor="start" font-weight="bold" fill="#000"  style="stroke-width:0.18px;stroke:#000">PAX8</text>
<text x="239.4" y="94.62" font-size="6.2" text-anchor="start" font-weight="normal" fill="#111" >ZBTB11</text>
<text x="260.4" y="101.02" font-size="6.2" text-anchor="start" font-weight="normal" fill="#111" >PHB2</text>
<text x="245.5" y="111.12" font-size="6.2" text-anchor="start" font-weight="normal" fill="#111" >NRF1</text>
<text x="253.4" y="118.62" font-size="6.2" text-anchor="start" font-weight="normal" fill="#111" >MYC</text>
<text x="298.3" y="104.72" font-size="6.2" text-anchor="start" font-weight="normal" fill="#111" >PREB</text>
<text x="298.3" y="112.62" font-size="6.2" text-anchor="start" font-weight="normal" fill="#111" >HINFP</text>
<text x="298.3" y="118.82" font-size="6.2" text-anchor="start" font-weight="normal" fill="#111" >SNAPC4</text>
<line x1="237.8" y1="17.5" x2="237.8" y2="120.2" stroke="#333" stroke-width="0.9"/>
<line x1="237.8" y1="120.2" x2="352" y2="120.2" stroke="#333" stroke-width="0.9"/>
<line x1="235.3" y1="25.2" x2="237.8" y2="25.2" stroke="#333" stroke-width="0.9"/>
<text x="233.3" y="27.81" font-size="7.3" text-anchor="end" font-weight="normal" fill="#111" >2</text>
<line x1="235.3" y1="56.8" x2="237.8" y2="56.8" stroke="#333" stroke-width="0.9"/>
<text x="233.3" y="59.41" font-size="7.3" text-anchor="end" font-weight="normal" fill="#111" >0</text>
<line x1="235.3" y1="88.5" x2="237.8" y2="88.5" stroke="#333" stroke-width="0.9"/>
<text x="233.3" y="91.11" font-size="7.3" text-anchor="end" font-weight="normal" fill="#111" >−2</text>
<line x1="235.3" y1="120.2" x2="237.8" y2="120.2" stroke="#333" stroke-width="0.9"/>
<text x="233.3" y="122.81" font-size="7.3" text-anchor="end" font-weight="normal" fill="#111" >−4</text>
<line x1="237.8" y1="120.2" x2="237.8" y2="122.7" stroke="#333" stroke-width="0.9"/>
<text x="237.8" y="130.81" font-size="7.3" text-anchor="middle" font-weight="normal" fill="#111" >−2</text>
<line x1="294.8" y1="120.2" x2="294.8" y2="122.7" stroke="#333" stroke-width="0.9"/>
<text x="294.8" y="130.81" font-size="7.3" text-anchor="middle" font-weight="normal" fill="#111" >0</text>
<line x1="352" y1="120.2" x2="352" y2="122.7" stroke="#333" stroke-width="0.9"/>
<text x="352.0" y="130.81" font-size="7.3" text-anchor="middle" font-weight="normal" fill="#111" >2</text>
<text x="295.7" y="140.19" font-size="7.5" text-anchor="middle" font-weight="normal" fill="#111" >Sensitivity score (HeLa)</text>
<text x="0" y="0" font-size="7.7" text-anchor="middle" fill="#111" transform="translate(216.89999999999998,68.7) rotate(-90)">Sensitivity score (MDA-MB-231)</text>
<circle cx="64.3" cy="208" r="18.3" fill="none" stroke="#b0b0b0" stroke-width="1.5"/>
<circle cx="90.4" cy="207" r="26.7" fill="none" stroke="#d2222a" stroke-width="1.8"/>
<text x="57.1" y="175.44" font-size="7.1" text-anchor="middle" font-weight="normal" fill="#111" >HIF2A</text>
<text x="57.1" y="184.14" font-size="7.1" text-anchor="middle" font-weight="normal" fill="#111" >RIME</text>
<text x="94.3" y="166.34" font-size="7.1" text-anchor="middle" font-weight="normal" fill="#111" >PAX8</text>
<text x="94.3" y="175.04" font-size="7.1" text-anchor="middle" font-weight="normal" fill="#111" >RIME</text>
<text x="55.2" y="210.84" font-size="7.1" text-anchor="middle" font-weight="normal" fill="#111" >85</text>
<text x="72.6" y="210.84" font-size="7.1" text-anchor="middle" font-weight="normal" fill="#111" >99</text>
<text x="93.6" y="210.84" font-size="7.1" text-anchor="middle" font-weight="normal" fill="#111" >264</text>
<line x1="71.3" y1="215" x2="71.3" y2="239.5" stroke="#222" stroke-width="0.7"/>
<path d="M69.4,238.6 L73.2,238.6 L71.3,242.8 Z" fill="#222"/>
<circle cx="84.2" cy="255" r="11.7" fill="#bfe0b0"/>
<circle cx="89.2" cy="272.4" r="11.4" fill="#bdbdbd"/>
<circle cx="64.2" cy="269.2" r="11.7" fill="#ef3b3b"/>
<text x="84.2" y="258.31" font-size="7.0" text-anchor="middle" font-weight="normal" fill="#1a2a14" >ARNT</text>
<text x="64.2" y="272.71" font-size="7.0" text-anchor="middle" font-weight="normal" fill="#3a0a0a" >PAX8</text>
<text x="90.0" y="275.01" font-size="7.0" text-anchor="middle" font-weight="normal" fill="#222" >HIF2A</text>
<path d="M150.0,197.0 C152.7,195.4 158.3,195.8 163.0,195.5 C167.7,195.2 173.2,194.9 178.0,195.0 C182.8,195.1 188.5,195.3 192.0,196.0 C195.5,196.7 197.3,197.2 199.0,199.0 C200.7,200.8 201.8,203.8 202.0,207.0 C202.2,210.2 199.7,213.8 200.0,218.0 C200.3,222.2 203.0,227.0 204.0,232.0 C205.0,237.0 206.3,243.5 206.0,248.0 C205.7,252.5 204.7,256.4 202.0,259.0 C199.3,261.6 195.0,262.8 190.0,263.5 C185.0,264.2 177.7,263.8 172.0,263.0 C166.3,262.2 160.2,261.5 156.0,259.0 C151.8,256.5 148.7,252.2 147.0,248.0 C145.3,243.8 146.0,239.0 146.0,234.0 C146.0,229.0 146.8,222.8 147.0,218.0 C147.2,213.2 146.5,208.5 147.0,205.0 C147.5,201.5 147.3,198.6 150.0,197.0 Z" fill="#fcf0cc" stroke="#f4e2b0" stroke-width="0.6"/>
<path d="M216.0,198.0 C218.6,195.2 223.7,192.8 228.0,191.0 C232.3,189.2 237.0,188.3 242.0,187.5 C247.0,186.7 252.5,186.1 258.0,186.0 C263.5,185.9 269.7,186.3 275.0,187.0 C280.3,187.7 286.0,188.8 290.0,190.0 C294.0,191.2 297.1,192.3 299.0,194.0 C300.9,195.7 301.8,197.8 301.5,200.0 C301.2,202.2 298.8,204.7 297.0,207.0 C295.2,209.3 292.3,211.5 291.0,214.0 C289.7,216.5 289.0,218.8 289.0,222.0 C289.0,225.2 290.6,229.7 291.0,233.0 C291.4,236.3 292.0,238.8 291.5,242.0 C291.0,245.2 289.4,248.7 288.0,252.0 C286.6,255.3 285.3,258.7 283.0,262.0 C280.7,265.3 277.8,269.5 274.0,272.0 C270.2,274.5 265.3,276.1 260.0,277.0 C254.7,277.9 247.7,277.8 242.0,277.5 C236.3,277.2 230.5,277.1 226.0,275.5 C221.5,273.9 217.6,271.9 215.0,268.0 C212.4,264.1 211.4,257.2 210.5,252.0 C209.6,246.8 209.5,242.0 209.5,237.0 C209.5,232.0 210.0,226.8 210.5,222.0 C211.0,217.2 211.6,212.0 212.5,208.0 C213.4,204.0 213.4,200.8 216.0,198.0 Z" fill="#f3bcc0" stroke="#ea9ca4" stroke-width="0.8"/>
<path d="M207.0,183.5 C208.7,181.2 212.1,182.2 214.0,183.0 C215.9,183.8 218.0,185.8 218.5,188.0 C219.0,190.2 218.2,193.5 217.0,196.0 C215.8,198.5 213.0,200.5 211.0,203.0 C209.0,205.5 206.7,210.0 205.0,211.0 C203.3,212.0 201.2,211.3 201.0,209.0 C200.8,206.7 203.0,201.2 204.0,197.0 C205.0,192.8 205.3,185.8 207.0,183.5 Z" fill="#e6f3e0" stroke="#d4eaca" stroke-width="0.5"/>
<circle cx="200.3" cy="214" r="5.6" fill="#eef6ea" stroke="#dcecd4" stroke-width="0.5"/>
<path d="M152.0,180.0 C153.0,178.4 155.0,177.2 157.0,176.8 C159.0,176.4 161.5,177.0 164.0,177.5 C166.5,178.0 169.3,179.2 172.0,180.0 C174.7,180.8 177.8,181.2 180.0,182.0 C182.2,182.8 184.4,183.2 185.5,184.5 C186.6,185.8 187.1,188.4 186.5,190.0 C185.9,191.6 183.9,193.3 182.0,193.8 C180.1,194.3 177.7,193.6 175.0,193.0 C172.3,192.4 169.2,191.0 166.0,190.5 C162.8,190.0 158.5,190.7 156.0,190.0 C153.5,189.3 151.7,188.2 151.0,186.5 C150.3,184.8 151.0,181.6 152.0,180.0 Z" fill="#bfcae4" stroke="#a4b2d6" stroke-width="0.8"/>
<rect x="307" y="194.6" width="12.6" height="35.4" rx="6" fill="#d6ecde" stroke="#c6e2d0" stroke-width="0.6"/>
<rect x="185.2" y="264.3" width="29.3" height="14.7" rx="5" fill="#d9efe9" stroke="#c8e6de" stroke-width="0.6"/>
<path d="M301.0,234.0 C304.1,233.1 312.8,234.1 318.0,234.5 C323.2,234.9 328.9,234.9 332.0,236.5 C335.1,238.1 335.7,239.8 336.5,244.0 C337.3,248.2 337.4,257.2 337.0,262.0 C336.6,266.8 336.8,270.3 334.0,272.5 C331.2,274.7 324.8,274.6 320.0,275.0 C315.2,275.4 308.4,275.8 305.0,275.0 C301.6,274.2 300.6,273.3 299.5,270.0 C298.4,266.7 298.5,260.0 298.5,255.0 C298.5,250.0 299.1,243.5 299.5,240.0 C299.9,236.5 297.9,234.9 301.0,234.0 Z" fill="#c9d1ed" stroke="#b2bde4" stroke-width="0.6"/>
<circle cx="293.3" cy="262.5" r="7" fill="#d6def4" stroke="#c0cbec" stroke-width="0.5"/>
<g stroke-linecap="round">
<line x1="258.0" y1="193.3" x2="264.0" y2="242.0" stroke="#c4203c" stroke-width="0.6" stroke-opacity="0.85"/>
<line x1="289.5" y1="200.5" x2="262.7" y2="211.4" stroke="#c4203c" stroke-width="0.6" stroke-opacity="0.85"/>
<line x1="221.0" y1="207.0" x2="235.0" y2="222.0" stroke="#c4203c" stroke-width="0.6" stroke-opacity="0.85"/>
<line x1="289.5" y1="200.5" x2="264.0" y2="242.0" stroke="#c4203c" stroke-width="0.6" stroke-opacity="0.85"/>
<line x1="262.7" y1="211.4" x2="247.0" y2="249.0" stroke="#c4203c" stroke-width="0.6" stroke-opacity="0.85"/>
<line x1="221.0" y1="207.0" x2="240.5" y2="234.3" stroke="#c4203c" stroke-width="0.6" stroke-opacity="0.85"/>
<line x1="222.2" y1="237.5" x2="247.0" y2="249.0" stroke="#c4203c" stroke-width="0.6" stroke-opacity="0.85"/>
<line x1="268.7" y1="199.5" x2="272.5" y2="216.3" stroke="#c4203c" stroke-width="0.6" stroke-opacity="0.85"/>
<line x1="232.3" y1="256.0" x2="235.9" y2="268.0" stroke="#c4203c" stroke-width="0.6" stroke-opacity="0.85"/>
<line x1="264.0" y1="242.0" x2="287.0" y2="241.8" stroke="#c4203c" stroke-width="0.6" stroke-opacity="0.85"/>
<line x1="268.7" y1="199.5" x2="287.0" y2="241.8" stroke="#c4203c" stroke-width="0.6" stroke-opacity="0.85"/>
<line x1="250.3" y1="212.0" x2="258.0" y2="193.3" stroke="#c4203c" stroke-width="0.6" stroke-opacity="0.85"/>
<line x1="256.0" y1="226.0" x2="264.0" y2="242.0" stroke="#c4203c" stroke-width="0.6" stroke-opacity="0.85"/>
<line x1="240.5" y1="234.3" x2="219.6" y2="252.2" stroke="#c4203c" stroke-width="0.6" stroke-opacity="0.85"/>
<line x1="235.0" y1="222.0" x2="256.0" y2="226.0" stroke="#c4203c" stroke-width="0.6" stroke-opacity="0.85"/>
<line x1="289.5" y1="200.5" x2="281.0" y2="226.5" stroke="#c4203c" stroke-width="0.6" stroke-opacity="0.85"/>
<line x1="262.7" y1="211.4" x2="272.5" y2="216.3" stroke="#c4203c" stroke-width="0.6" stroke-opacity="0.85"/>
<line x1="221.0" y1="207.0" x2="268.7" y2="199.5" stroke="#c4203c" stroke-width="0.6" stroke-opacity="0.85"/>
<line x1="234.6" y1="207.8" x2="214.3" y2="225.0" stroke="#c4203c" stroke-width="0.6" stroke-opacity="0.85"/>
<line x1="262.7" y1="211.4" x2="287.0" y2="241.8" stroke="#c4203c" stroke-width="0.6" stroke-opacity="0.85"/>
<line x1="240.7" y1="195.5" x2="289.5" y2="200.5" stroke="#c4203c" stroke-width="0.6" stroke-opacity="0.85"/>
<line x1="272.5" y1="216.3" x2="258.4" y2="254.7" stroke="#c4203c" stroke-width="0.6" stroke-opacity="0.85"/>
<line x1="219.6" y1="252.2" x2="232.3" y2="256.0" stroke="#c4203c" stroke-width="0.6" stroke-opacity="0.85"/>
<line x1="268.7" y1="199.5" x2="256.0" y2="226.0" stroke="#c4203c" stroke-width="0.6" stroke-opacity="0.85"/>
<line x1="264.0" y1="242.0" x2="275.8" y2="257.1" stroke="#c4203c" stroke-width="0.6" stroke-opacity="0.85"/>
<line x1="250.3" y1="212.0" x2="289.5" y2="200.5" stroke="#c4203c" stroke-width="0.6" stroke-opacity="0.85"/>
<line x1="258.4" y1="254.7" x2="266.3" y2="270.9" stroke="#c4203c" stroke-width="0.6" stroke-opacity="0.85"/>
<line x1="256.0" y1="226.0" x2="258.4" y2="254.7" stroke="#c4203c" stroke-width="0.6" stroke-opacity="0.85"/>
<line x1="240.5" y1="234.3" x2="247.0" y2="249.0" stroke="#c4203c" stroke-width="0.6" stroke-opacity="0.85"/>
<line x1="235.0" y1="222.0" x2="240.5" y2="234.3" stroke="#c4203c" stroke-width="0.6" stroke-opacity="0.85"/>
<line x1="262.7" y1="211.4" x2="256.0" y2="226.0" stroke="#c4203c" stroke-width="0.6" stroke-opacity="0.85"/>
<line x1="221.0" y1="207.0" x2="262.7" y2="211.4" stroke="#c4203c" stroke-width="0.6" stroke-opacity="0.85"/>
<line x1="240.7" y1="195.5" x2="272.5" y2="216.3" stroke="#c4203c" stroke-width="0.6" stroke-opacity="0.85"/>
<line x1="232.3" y1="256.0" x2="247.0" y2="249.0" stroke="#c4203c" stroke-width="0.6" stroke-opacity="0.85"/>
<line x1="268.7" y1="199.5" x2="240.5" y2="234.3" stroke="#c4203c" stroke-width="0.6" stroke-opacity="0.85"/>
<line x1="256.0" y1="226.0" x2="222.2" y2="237.5" stroke="#c4203c" stroke-width="0.6" stroke-opacity="0.85"/>
<line x1="250.3" y1="212.0" x2="272.5" y2="216.3" stroke="#c4203c" stroke-width="0.6" stroke-opacity="0.85"/>
<line x1="235.0" y1="222.0" x2="268.7" y2="199.5" stroke="#c4203c" stroke-width="0.6" stroke-opacity="0.85"/>
<line x1="235.9" y1="268.0" x2="250.6" y2="269.7" stroke="#c4203c" stroke-width="0.6" stroke-opacity="0.85"/>
<line x1="221.0" y1="207.0" x2="234.6" y2="207.8" stroke="#c4203c" stroke-width="0.6" stroke-opacity="0.85"/>
<line x1="235.0" y1="222.0" x2="232.3" y2="256.0" stroke="#c4203c" stroke-width="0.6" stroke-opacity="0.85"/>
<line x1="240.5" y1="234.3" x2="287.0" y2="241.8" stroke="#c4203c" stroke-width="0.6" stroke-opacity="0.85"/>
<line x1="240.7" y1="195.5" x2="250.3" y2="212.0" stroke="#c4203c" stroke-width="0.6" stroke-opacity="0.85"/>
<line x1="240.7" y1="195.5" x2="256.0" y2="226.0" stroke="#c4203c" stroke-width="0.6" stroke-opacity="0.85"/>
<line x1="222.2" y1="237.5" x2="240.5" y2="234.3" stroke="#c4203c" stroke-width="0.6" stroke-opacity="0.85"/>
<line x1="256.0" y1="226.0" x2="219.6" y2="252.2" stroke="#c4203c" stroke-width="0.6" stroke-opacity="0.85"/>
<line x1="250.3" y1="212.0" x2="256.0" y2="226.0" stroke="#c4203c" stroke-width="0.6" stroke-opacity="0.85"/>
<line x1="235.0" y1="222.0" x2="262.7" y2="211.4" stroke="#c4203c" stroke-width="0.6" stroke-opacity="0.85"/>
<line x1="250.6" y1="269.7" x2="266.3" y2="270.9" stroke="#c4203c" stroke-width="0.6" stroke-opacity="0.85"/>
<line x1="240.7" y1="195.5" x2="235.0" y2="222.0" stroke="#c4203c" stroke-width="0.6" stroke-opacity="0.85"/>
<line x1="287.0" y1="241.8" x2="258.4" y2="254.7" stroke="#c4203c" stroke-width="0.6" stroke-opacity="0.85"/>
<line x1="240.7" y1="195.5" x2="240.5" y2="234.3" stroke="#c4203c" stroke-width="0.6" stroke-opacity="0.85"/>
<line x1="222.2" y1="237.5" x2="232.3" y2="256.0" stroke="#c4203c" stroke-width="0.6" stroke-opacity="0.85"/>
<line x1="234.6" y1="207.8" x2="222.2" y2="237.5" stroke="#c4203c" stroke-width="0.6" stroke-opacity="0.85"/>
<line x1="268.7" y1="199.5" x2="262.7" y2="211.4" stroke="#c4203c" stroke-width="0.6" stroke-opacity="0.85"/>
<line x1="250.3" y1="212.0" x2="235.0" y2="222.0" stroke="#c4203c" stroke-width="0.6" stroke-opacity="0.85"/>
<line x1="258.4" y1="254.7" x2="275.8" y2="257.1" stroke="#c4203c" stroke-width="0.6" stroke-opacity="0.85"/>
<line x1="256.0" y1="226.0" x2="247.0" y2="249.0" stroke="#c4203c" stroke-width="0.6" stroke-opacity="0.85"/>
<line x1="250.3" y1="212.0" x2="240.5" y2="234.3" stroke="#c4203c" stroke-width="0.6" stroke-opacity="0.85"/>
<line x1="214.3" y1="225.0" x2="222.2" y2="237.5" stroke="#c4203c" stroke-width="0.6" stroke-opacity="0.85"/>
<line x1="240.7" y1="195.5" x2="268.7" y2="199.5" stroke="#c4203c" stroke-width="0.6" stroke-opacity="0.85"/>
<line x1="234.6" y1="207.8" x2="258.0" y2="193.3" stroke="#c4203c" stroke-width="0.6" stroke-opacity="0.85"/>
<line x1="272.5" y1="216.3" x2="287.0" y2="241.8" stroke="#c4203c" stroke-width="0.6" stroke-opacity="0.85"/>
<line x1="281.0" y1="226.5" x2="264.0" y2="242.0" stroke="#c4203c" stroke-width="0.6" stroke-opacity="0.85"/>
<line x1="234.6" y1="207.8" x2="219.6" y2="252.2" stroke="#c4203c" stroke-width="0.6" stroke-opacity="0.85"/>
<line x1="268.7" y1="199.5" x2="281.0" y2="226.5" stroke="#c4203c" stroke-width="0.6" stroke-opacity="0.85"/>
<line x1="250.3" y1="212.0" x2="268.7" y2="199.5" stroke="#c4203c" stroke-width="0.6" stroke-opacity="0.85"/>
<line x1="258.4" y1="254.7" x2="250.6" y2="269.7" stroke="#c4203c" stroke-width="0.6" stroke-opacity="0.85"/>
<line x1="256.0" y1="226.0" x2="287.0" y2="241.8" stroke="#c4203c" stroke-width="0.6" stroke-opacity="0.85"/>
<line x1="240.5" y1="234.3" x2="232.3" y2="256.0" stroke="#c4203c" stroke-width="0.6" stroke-opacity="0.85"/>
<line x1="235.0" y1="222.0" x2="222.2" y2="237.5" stroke="#c4203c" stroke-width="0.6" stroke-opacity="0.85"/>
<line x1="214.3" y1="225.0" x2="219.6" y2="252.2" stroke="#c4203c" stroke-width="0.6" stroke-opacity="0.85"/>
<line x1="250.3" y1="212.0" x2="232.3" y2="256.0" stroke="#c4203c" stroke-width="0.6" stroke-opacity="0.85"/>
<line x1="247.0" y1="249.0" x2="264.0" y2="242.0" stroke="#c4203c" stroke-width="0.6" stroke-opacity="0.85"/>
<line x1="272.5" y1="216.3" x2="256.0" y2="226.0" stroke="#c4203c" stroke-width="0.6" stroke-opacity="0.85"/>
<line x1="240.7" y1="195.5" x2="262.7" y2="211.4" stroke="#c4203c" stroke-width="0.6" stroke-opacity="0.85"/>
<line x1="287.0" y1="241.8" x2="266.3" y2="270.9" stroke="#c4203c" stroke-width="0.6" stroke-opacity="0.85"/>
<line x1="272.5" y1="216.3" x2="275.8" y2="257.1" stroke="#c4203c" stroke-width="0.6" stroke-opacity="0.85"/>
<line x1="281.0" y1="226.5" x2="258.4" y2="254.7" stroke="#c4203c" stroke-width="0.6" stroke-opacity="0.85"/>
<line x1="234.6" y1="207.8" x2="247.0" y2="249.0" stroke="#c4203c" stroke-width="0.6" stroke-opacity="0.85"/>
<line x1="258.0" y1="193.3" x2="289.5" y2="200.5" stroke="#c4203c" stroke-width="0.6" stroke-opacity="0.85"/>
<line x1="250.3" y1="212.0" x2="262.7" y2="211.4" stroke="#c4203c" stroke-width="0.6" stroke-opacity="0.85"/>
<line x1="235.0" y1="222.0" x2="258.0" y2="193.3" stroke="#c4203c" stroke-width="0.6" stroke-opacity="0.85"/>
<line x1="275.8" y1="257.1" x2="266.3" y2="270.9" stroke="#c4203c" stroke-width="0.6" stroke-opacity="0.85"/>
<line x1="240.5" y1="234.3" x2="264.0" y2="242.0" stroke="#c4203c" stroke-width="0.6" stroke-opacity="0.85"/>
<line x1="214.3" y1="225.0" x2="247.0" y2="249.0" stroke="#c4203c" stroke-width="0.6" stroke-opacity="0.85"/>
<line x1="240.7" y1="195.5" x2="234.6" y2="207.8" stroke="#c4203c" stroke-width="0.6" stroke-opacity="0.85"/>
<line x1="221.0" y1="207.0" x2="214.3" y2="225.0" stroke="#c4203c" stroke-width="0.6" stroke-opacity="0.85"/>
<line x1="247.0" y1="249.0" x2="258.4" y2="254.7" stroke="#c4203c" stroke-width="0.6" stroke-opacity="0.85"/>
<line x1="272.5" y1="216.3" x2="240.5" y2="234.3" stroke="#c4203c" stroke-width="0.6" stroke-opacity="0.85"/>
<line x1="221.0" y1="207.0" x2="222.2" y2="237.5" stroke="#c4203c" stroke-width="0.6" stroke-opacity="0.85"/>
<line x1="234.6" y1="207.8" x2="272.5" y2="216.3" stroke="#c4203c" stroke-width="0.6" stroke-opacity="0.85"/>
<line x1="258.0" y1="193.3" x2="272.5" y2="216.3" stroke="#c4203c" stroke-width="0.6" stroke-opacity="0.85"/>
<line x1="219.6" y1="252.2" x2="235.9" y2="268.0" stroke="#c4203c" stroke-width="0.6" stroke-opacity="0.85"/>
<line x1="268.7" y1="199.5" x2="264.0" y2="242.0" stroke="#c4203c" stroke-width="0.6" stroke-opacity="0.85"/>
<line x1="256.0" y1="226.0" x2="240.5" y2="234.3" stroke="#c4203c" stroke-width="0.6" stroke-opacity="0.85"/>
<line x1="250.3" y1="212.0" x2="281.0" y2="226.5" stroke="#c4203c" stroke-width="0.6" stroke-opacity="0.85"/>
<line x1="289.5" y1="200.5" x2="272.5" y2="216.3" stroke="#c4203c" stroke-width="0.6" stroke-opacity="0.85"/>
<line x1="240.7" y1="195.5" x2="214.3" y2="225.0" stroke="#c4203c" stroke-width="0.6" stroke-opacity="0.85"/>
<line x1="221.0" y1="207.0" x2="258.0" y2="193.3" stroke="#c4203c" stroke-width="0.6" stroke-opacity="0.85"/>
<line x1="234.6" y1="207.8" x2="250.3" y2="212.0" stroke="#c4203c" stroke-width="0.6" stroke-opacity="0.85"/>
<line x1="289.5" y1="200.5" x2="287.0" y2="241.8" stroke="#c4203c" stroke-width="0.6" stroke-opacity="0.85"/>
<line x1="247.0" y1="249.0" x2="235.9" y2="268.0" stroke="#c4203c" stroke-width="0.6" stroke-opacity="0.85"/>
<line x1="262.7" y1="211.4" x2="264.0" y2="242.0" stroke="#c4203c" stroke-width="0.6" stroke-opacity="0.85"/>
<line x1="240.7" y1="195.5" x2="222.2" y2="237.5" stroke="#c4203c" stroke-width="0.6" stroke-opacity="0.85"/>
<line x1="234.6" y1="207.8" x2="256.0" y2="226.0" stroke="#c4203c" stroke-width="0.6" stroke-opacity="0.85"/>
<line x1="221.0" y1="207.0" x2="219.6" y2="252.2" stroke="#c4203c" stroke-width="0.6" stroke-opacity="0.85"/>
<line x1="258.0" y1="193.3" x2="256.0" y2="226.0" stroke="#c4203c" stroke-width="0.6" stroke-opacity="0.85"/>
<line x1="250.3" y1="212.0" x2="214.3" y2="225.0" stroke="#c4203c" stroke-width="0.6" stroke-opacity="0.85"/>
<line x1="264.0" y1="242.0" x2="258.4" y2="254.7" stroke="#c4203c" stroke-width="0.6" stroke-opacity="0.85"/>
<line x1="214.3" y1="225.0" x2="256.0" y2="226.0" stroke="#c4203c" stroke-width="0.6" stroke-opacity="0.85"/>
<line x1="289.5" y1="200.5" x2="256.0" y2="226.0" stroke="#c4203c" stroke-width="0.6" stroke-opacity="0.85"/>
<line x1="240.7" y1="195.5" x2="258.0" y2="193.3" stroke="#c4203c" stroke-width="0.6" stroke-opacity="0.85"/>
<line x1="262.7" y1="211.4" x2="281.0" y2="226.5" stroke="#c4203c" stroke-width="0.6" stroke-opacity="0.85"/>
<line x1="234.6" y1="207.8" x2="235.0" y2="222.0" stroke="#c4203c" stroke-width="0.6" stroke-opacity="0.85"/>
<line x1="287.0" y1="241.8" x2="275.8" y2="257.1" stroke="#c4203c" stroke-width="0.6" stroke-opacity="0.85"/>
<line x1="272.5" y1="216.3" x2="264.0" y2="242.0" stroke="#c4203c" stroke-width="0.6" stroke-opacity="0.85"/>
<line x1="281.0" y1="226.5" x2="247.0" y2="249.0" stroke="#c4203c" stroke-width="0.6" stroke-opacity="0.85"/>
<line x1="234.6" y1="207.8" x2="240.5" y2="234.3" stroke="#c4203c" stroke-width="0.6" stroke-opacity="0.85"/>
<line x1="258.0" y1="193.3" x2="240.5" y2="234.3" stroke="#c4203c" stroke-width="0.6" stroke-opacity="0.85"/>
<line x1="214.3" y1="225.0" x2="235.0" y2="222.0" stroke="#c4203c" stroke-width="0.6" stroke-opacity="0.85"/>
<line x1="214.3" y1="225.0" x2="240.5" y2="234.3" stroke="#c4203c" stroke-width="0.6" stroke-opacity="0.85"/>
<line x1="221.0" y1="207.0" x2="240.7" y2="195.5" stroke="#c4203c" stroke-width="0.6" stroke-opacity="0.85"/>
<line x1="272.5" y1="216.3" x2="281.0" y2="226.5" stroke="#c4203c" stroke-width="0.6" stroke-opacity="0.85"/>
<line x1="234.6" y1="207.8" x2="268.7" y2="199.5" stroke="#c4203c" stroke-width="0.6" stroke-opacity="0.85"/>
<line x1="281.0" y1="226.5" x2="287.0" y2="241.8" stroke="#c4203c" stroke-width="0.6" stroke-opacity="0.85"/>
<line x1="258.0" y1="193.3" x2="268.7" y2="199.5" stroke="#c4203c" stroke-width="0.6" stroke-opacity="0.85"/>
<line x1="222.2" y1="237.5" x2="235.9" y2="268.0" stroke="#c4203c" stroke-width="0.6" stroke-opacity="0.85"/>
<line x1="264.0" y1="242.0" x2="266.3" y2="270.9" stroke="#c4203c" stroke-width="0.6" stroke-opacity="0.85"/>
<line x1="214.3" y1="225.0" x2="232.3" y2="256.0" stroke="#c4203c" stroke-width="0.6" stroke-opacity="0.85"/>
<line x1="221.0" y1="207.0" x2="250.3" y2="212.0" stroke="#c4203c" stroke-width="0.6" stroke-opacity="0.85"/>
<line x1="235.0" y1="222.0" x2="247.0" y2="249.0" stroke="#c4203c" stroke-width="0.6" stroke-opacity="0.85"/>
<line x1="240.5" y1="234.3" x2="258.4" y2="254.7" stroke="#c4203c" stroke-width="0.6" stroke-opacity="0.85"/>
<line x1="247.0" y1="249.0" x2="287.0" y2="241.8" stroke="#c4203c" stroke-width="0.6" stroke-opacity="0.85"/>
<line x1="250.3" y1="212.0" x2="258.4" y2="254.7" stroke="#c4203c" stroke-width="0.6" stroke-opacity="0.85"/>
<line x1="221.0" y1="207.0" x2="256.0" y2="226.0" stroke="#c4203c" stroke-width="0.6" stroke-opacity="0.85"/>
<line x1="234.6" y1="207.8" x2="262.7" y2="211.4" stroke="#c4203c" stroke-width="0.6" stroke-opacity="0.85"/>
<line x1="281.0" y1="226.5" x2="256.0" y2="226.0" stroke="#c4203c" stroke-width="0.6" stroke-opacity="0.85"/>
<line x1="281.0" y1="226.5" x2="275.8" y2="257.1" stroke="#c4203c" stroke-width="0.6" stroke-opacity="0.85"/>
<line x1="222.2" y1="237.5" x2="219.6" y2="252.2" stroke="#c4203c" stroke-width="0.6" stroke-opacity="0.85"/>
<line x1="258.0" y1="193.3" x2="262.7" y2="211.4" stroke="#c4203c" stroke-width="0.6" stroke-opacity="0.85"/>
<line x1="268.7" y1="199.5" x2="289.5" y2="200.5" stroke="#c4203c" stroke-width="0.6" stroke-opacity="0.85"/>
<line x1="158.3" y1="204.2" x2="193.6" y2="230.3" stroke="#d8958a" stroke-width="0.6" stroke-opacity="1"/>
<line x1="176.3" y1="204.2" x2="193.6" y2="230.3" stroke="#d8958a" stroke-width="0.6" stroke-opacity="1"/>
<line x1="187.2" y1="208.7" x2="193.6" y2="230.3" stroke="#d8958a" stroke-width="0.6" stroke-opacity="1"/>
<line x1="161.0" y1="216.5" x2="193.6" y2="230.3" stroke="#d8958a" stroke-width="0.6" stroke-opacity="1"/>
<line x1="151.6" y1="236.0" x2="193.6" y2="230.3" stroke="#d8958a" stroke-width="0.6" stroke-opacity="1"/>
<line x1="168.4" y1="234.4" x2="193.6" y2="230.3" stroke="#d8958a" stroke-width="0.6" stroke-opacity="1"/>
<line x1="164.4" y1="252.6" x2="193.6" y2="230.3" stroke="#d8958a" stroke-width="0.6" stroke-opacity="1"/>
<line x1="188.0" y1="256.0" x2="193.6" y2="230.3" stroke="#d8958a" stroke-width="0.6" stroke-opacity="1"/>
<line x1="195.6" y1="243.0" x2="193.6" y2="230.3" stroke="#d8958a" stroke-width="0.6" stroke-opacity="1"/>
<line x1="158.3" y1="204.2" x2="161.0" y2="216.5" stroke="#d8958a" stroke-width="0.6" stroke-opacity="1"/>
<line x1="161.0" y1="216.5" x2="151.6" y2="236.0" stroke="#d8958a" stroke-width="0.6" stroke-opacity="1"/>
<line x1="176.3" y1="204.2" x2="151.6" y2="236.0" stroke="#d8958a" stroke-width="0.6" stroke-opacity="1"/>
<line x1="151.6" y1="236.0" x2="188.0" y2="256.0" stroke="#d8958a" stroke-width="0.6" stroke-opacity="1"/>
<line x1="164.4" y1="252.6" x2="151.6" y2="236.0" stroke="#d8958a" stroke-width="0.6" stroke-opacity="1"/>
<line x1="176.4" y1="222.3" x2="168.4" y2="234.4" stroke="#d8958a" stroke-width="0.6" stroke-opacity="1"/>
<line x1="168.4" y1="234.4" x2="164.4" y2="252.6" stroke="#d8958a" stroke-width="0.6" stroke-opacity="1"/>
<line x1="176.4" y1="222.3" x2="193.6" y2="230.3" stroke="#d8958a" stroke-width="0.6" stroke-opacity="1"/>
<line x1="176.3" y1="204.2" x2="176.4" y2="222.3" stroke="#d8958a" stroke-width="0.6" stroke-opacity="1"/>
<line x1="187.2" y1="208.7" x2="176.4" y2="222.3" stroke="#d8958a" stroke-width="0.6" stroke-opacity="1"/>
<line x1="164.4" y1="252.6" x2="188.0" y2="256.0" stroke="#d8958a" stroke-width="0.6" stroke-opacity="1"/>
<line x1="195.6" y1="243.0" x2="188.0" y2="256.0" stroke="#d8958a" stroke-width="0.6" stroke-opacity="1"/>
<line x1="158.3" y1="204.2" x2="168.4" y2="234.4" stroke="#d8958a" stroke-width="0.6" stroke-opacity="1"/>
<line x1="161.0" y1="216.5" x2="164.4" y2="252.6" stroke="#d8958a" stroke-width="0.6" stroke-opacity="1"/>
<line x1="176.4" y1="222.3" x2="188.0" y2="256.0" stroke="#d8958a" stroke-width="0.6" stroke-opacity="1"/>
<line x1="159.3" y1="183.3" x2="180.0" y2="188.3" stroke="#c86070" stroke-width="0.7" stroke-opacity="1"/>
<line x1="180.0" y1="188.3" x2="200.3" y2="214.0" stroke="#d8a0a4" stroke-width="0.7" stroke-opacity="1"/>
<line x1="210.7" y1="191.0" x2="200.3" y2="214.0" stroke="#c8a888" stroke-width="0.7" stroke-opacity="1"/>
<line x1="193.6" y1="230.3" x2="200.3" y2="214.0" stroke="#d8a090" stroke-width="0.7" stroke-opacity="1"/>
<line x1="187.2" y1="208.7" x2="200.3" y2="214.0" stroke="#d8a090" stroke-width="0.7" stroke-opacity="1"/>
<line x1="200.3" y1="214.0" x2="214.3" y2="225.0" stroke="#e0a0a8" stroke-width="0.7" stroke-opacity="1"/>
<line x1="200.3" y1="214.0" x2="221.0" y2="207.0" stroke="#e0a0a8" stroke-width="0.7" stroke-opacity="1"/>
<line x1="210.7" y1="191.0" x2="221.0" y2="207.0" stroke="#e0a0a8" stroke-width="0.7" stroke-opacity="1"/>
<line x1="210.7" y1="191.0" x2="240.7" y2="195.5" stroke="#e8b0b4" stroke-width="0.7" stroke-opacity="1"/>
<line x1="313.4" y1="205.0" x2="313.4" y2="220.2" stroke="#c87070" stroke-width="0.7" stroke-opacity="1"/>
<line x1="191.2" y1="270.7" x2="207.7" y2="270.7" stroke="#b8b8b8" stroke-width="0.7" stroke-opacity="1"/>
<line x1="293.3" y1="262.5" x2="275.8" y2="257.1" stroke="#c8a0c8" stroke-width="0.7" stroke-opacity="1"/>
<line x1="293.3" y1="262.5" x2="287.0" y2="241.8" stroke="#c8a0c8" stroke-width="0.7" stroke-opacity="1"/>
<line x1="293.3" y1="262.5" x2="266.3" y2="270.9" stroke="#c8a0c8" stroke-width="0.7" stroke-opacity="1"/>
<line x1="293.3" y1="262.5" x2="281.0" y2="226.5" stroke="#d0a8c8" stroke-width="0.7" stroke-opacity="1"/>
<line x1="293.3" y1="262.5" x2="304.7" y2="241.7" stroke="#a898c8" stroke-width="0.7" stroke-opacity="1"/>
<line x1="293.3" y1="262.5" x2="307.5" y2="266.7" stroke="#a898c8" stroke-width="0.7" stroke-opacity="1"/>
<line x1="293.3" y1="262.5" x2="323.7" y2="244.2" stroke="#b8acd8" stroke-width="0.7" stroke-opacity="1"/>
<line x1="304.7" y1="241.7" x2="323.7" y2="244.2" stroke="#a080b0" stroke-width="0.7" stroke-opacity="1"/>
<line x1="304.7" y1="241.7" x2="307.5" y2="266.7" stroke="#a080b0" stroke-width="0.7" stroke-opacity="1"/>
<line x1="323.7" y1="244.2" x2="307.5" y2="266.7" stroke="#a080b0" stroke-width="0.7" stroke-opacity="1"/>
<line x1="307.5" y1="266.7" x2="328.0" y2="264.2" stroke="#a080b0" stroke-width="0.7" stroke-opacity="1"/>
<line x1="304.7" y1="241.7" x2="328.0" y2="264.2" stroke="#b8a0c8" stroke-width="0.7" stroke-opacity="1"/>
</g>
<circle cx="221.0" cy="207.0" r="4.2" fill="url(#gR)" stroke="#b83446" stroke-width="0.45"/>
<circle cx="240.7" cy="195.5" r="4.2" fill="url(#gR)" stroke="#b83446" stroke-width="0.45"/>
<circle cx="234.6" cy="207.8" r="4.2" fill="url(#gR)" stroke="#b83446" stroke-width="0.45"/>
<circle cx="250.3" cy="212.0" r="4.2" fill="url(#gR)" stroke="#b83446" stroke-width="0.45"/>
<circle cx="214.3" cy="225.0" r="4.2" fill="url(#gR)" stroke="#b83446" stroke-width="0.45"/>
<circle cx="235.0" cy="222.0" r="4.2" fill="url(#gR)" stroke="#b83446" stroke-width="0.45"/>
<circle cx="258.0" cy="193.3" r="4.2" fill="url(#gR)" stroke="#b83446" stroke-width="0.45"/>
<circle cx="268.7" cy="199.5" r="4.2" fill="url(#gR)" stroke="#b83446" stroke-width="0.45"/>
<circle cx="289.5" cy="200.5" r="4.2" fill="url(#gR)" stroke="#b83446" stroke-width="0.45"/>
<circle cx="262.7" cy="211.4" r="4.2" fill="url(#gR)" stroke="#b83446" stroke-width="0.45"/>
<circle cx="272.5" cy="216.3" r="4.2" fill="url(#gR)" stroke="#b83446" stroke-width="0.45"/>
<circle cx="281.0" cy="226.5" r="4.2" fill="url(#gR)" stroke="#b83446" stroke-width="0.45"/>
<circle cx="256.0" cy="226.0" r="4.2" fill="url(#gR)" stroke="#b83446" stroke-width="0.45"/>
<circle cx="222.2" cy="237.5" r="4.2" fill="url(#gR)" stroke="#b83446" stroke-width="0.45"/>
<circle cx="240.5" cy="234.3" r="4.2" fill="url(#gR)" stroke="#b83446" stroke-width="0.45"/>
<circle cx="219.6" cy="252.2" r="4.2" fill="url(#gR)" stroke="#b83446" stroke-width="0.45"/>
<circle cx="232.3" cy="256.0" r="4.2" fill="url(#gR)" stroke="#b83446" stroke-width="0.45"/>
<circle cx="247.0" cy="249.0" r="4.2" fill="url(#gR)" stroke="#b83446" stroke-width="0.45"/>
<circle cx="264.0" cy="242.0" r="4.2" fill="url(#gR)" stroke="#b83446" stroke-width="0.45"/>
<circle cx="287.0" cy="241.8" r="4.2" fill="url(#gR)" stroke="#b83446" stroke-width="0.45"/>
<circle cx="258.4" cy="254.7" r="4.2" fill="url(#gR)" stroke="#b83446" stroke-width="0.45"/>
<circle cx="275.8" cy="257.1" r="4.2" fill="url(#gR)" stroke="#b83446" stroke-width="0.45"/>
<circle cx="235.9" cy="268.0" r="4.2" fill="url(#gR)" stroke="#b83446" stroke-width="0.45"/>
<circle cx="250.6" cy="269.7" r="4.2" fill="url(#gR)" stroke="#b83446" stroke-width="0.45"/>
<circle cx="266.3" cy="270.9" r="4.2" fill="url(#gR)" stroke="#b83446" stroke-width="0.45"/>
<circle cx="158.3" cy="204.2" r="4.0" fill="url(#gY)" stroke="#c09a4c" stroke-width="0.45"/>
<circle cx="176.3" cy="204.2" r="4.0" fill="url(#gY)" stroke="#c09a4c" stroke-width="0.45"/>
<circle cx="187.2" cy="208.7" r="4.0" fill="url(#gY)" stroke="#c09a4c" stroke-width="0.45"/>
<circle cx="161.0" cy="216.5" r="4.0" fill="url(#gY)" stroke="#c09a4c" stroke-width="0.45"/>
<circle cx="176.4" cy="222.3" r="4.0" fill="url(#gY)" stroke="#c09a4c" stroke-width="0.45"/>
<circle cx="193.6" cy="230.3" r="4.0" fill="url(#gY)" stroke="#c09a4c" stroke-width="0.45"/>
<circle cx="168.4" cy="234.4" r="4.0" fill="url(#gY)" stroke="#c09a4c" stroke-width="0.45"/>
<circle cx="151.6" cy="236.0" r="4.0" fill="url(#gY)" stroke="#c09a4c" stroke-width="0.45"/>
<circle cx="195.6" cy="243.0" r="4.0" fill="url(#gY)" stroke="#c09a4c" stroke-width="0.45"/>
<circle cx="164.4" cy="252.6" r="4.0" fill="url(#gY)" stroke="#c09a4c" stroke-width="0.45"/>
<circle cx="188.0" cy="256.0" r="4.0" fill="url(#gY)" stroke="#c09a4c" stroke-width="0.45"/>
<circle cx="159.3" cy="183.3" r="4.0" fill="url(#gB)" stroke="#3a5690" stroke-width="0.45"/>
<circle cx="180.0" cy="188.3" r="4.0" fill="url(#gB)" stroke="#3a5690" stroke-width="0.45"/>
<circle cx="210.7" cy="191.0" r="4.0" fill="url(#gG)" stroke="#78b466" stroke-width="0.45"/>
<circle cx="200.3" cy="214.0" r="4.0" fill="url(#gG)" stroke="#78b466" stroke-width="0.45"/>
<circle cx="313.4" cy="205.0" r="3.8" fill="url(#gH)" stroke="#3e9a68" stroke-width="0.45"/>
<circle cx="313.4" cy="220.2" r="3.8" fill="url(#gH)" stroke="#3e9a68" stroke-width="0.45"/>
<circle cx="191.2" cy="270.7" r="4.0" fill="url(#gT)" stroke="#58a8a0" stroke-width="0.45"/>
<circle cx="207.7" cy="270.7" r="4.0" fill="url(#gT)" stroke="#58a8a0" stroke-width="0.45"/>
<circle cx="304.7" cy="241.7" r="4.0" fill="url(#gD)" stroke="#5a7a50" stroke-width="0.45"/>
<circle cx="323.7" cy="244.2" r="4.0" fill="url(#gD)" stroke="#5a7a50" stroke-width="0.45"/>
<circle cx="307.5" cy="266.7" r="4.0" fill="url(#gD)" stroke="#5a7a50" stroke-width="0.45"/>
<circle cx="328.0" cy="264.2" r="4.0" fill="url(#gD)" stroke="#5a7a50" stroke-width="0.45"/>
<circle cx="293.3" cy="262.5" r="4.0" fill="url(#gV)" stroke="#4c5aa8" stroke-width="0.45"/>
<g stroke="#222" stroke-width="0.7" fill="#222">
<line x1="171.7" y1="166.7" x2="177.6" y2="176.6"/><path d="M175.6,177.4 L179,179.6 L178.8,175.5 Z"/>
<line x1="193.3" y1="180.3" x2="196.7" y2="202.4"/><path d="M195.2,202.2 L197.1,205.6 L198.4,201.8 Z"/>
<line x1="227.5" y1="170.7" x2="216.8" y2="180.6"/><path d="M215.4,179 L214.4,182.6 L218,181.7 Z"/>
</g>
<text x="132.2" y="161.6" font-size="7" font-weight="bold" text-anchor="middle" fill="#111" style="stroke:#111;stroke-width:0.8px">e</text>
<text x="154.7" y="163.74" font-size="7.1" text-anchor="start" font-weight="normal" fill="#1c1c1c">RBBP4</text>
<text x="186.3" y="175.81" font-size="7.0" text-anchor="start" font-weight="normal" fill="#1c1c1c">HDAC1</text>
<text x="212.5" y="167.11" font-size="7.0" text-anchor="start" font-weight="normal" fill="#1c1c1c">TBL1XR1</text>
<text x="238.9" y="180.15" font-size="7.4" text-anchor="start" font-weight="normal" fill="#1c1c1c">mRNA processing</text>
<text x="322.7" y="208.15" font-size="7.4" text-anchor="start" font-weight="normal" fill="#1c1c1c">HIF2A</text>
<text x="322.7" y="217.15" font-size="7.4" text-anchor="start" font-weight="normal" fill="#1c1c1c">ARNT</text>
<text x="137.6" y="260.91" font-size="7.3" text-anchor="middle" font-weight="normal" fill="#1c1c1c">SWI/SNF</text>
<text x="137.6" y="270.31" font-size="7.3" text-anchor="middle" font-weight="normal" fill="#1c1c1c">complex</text>
<text x="173.3" y="289.01" font-size="7.3" text-anchor="start" font-weight="normal" fill="#1c1c1c">DBIRD complex</text>
<text x="316.0" y="284.85" font-size="7.4" text-anchor="middle" font-weight="normal" fill="#1c1c1c">Nuclear</text>
<text x="315.7" y="293.85" font-size="7.4" text-anchor="middle" font-weight="normal" fill="#1c1c1c">trafficking</text>
</svg>
</body></html>
